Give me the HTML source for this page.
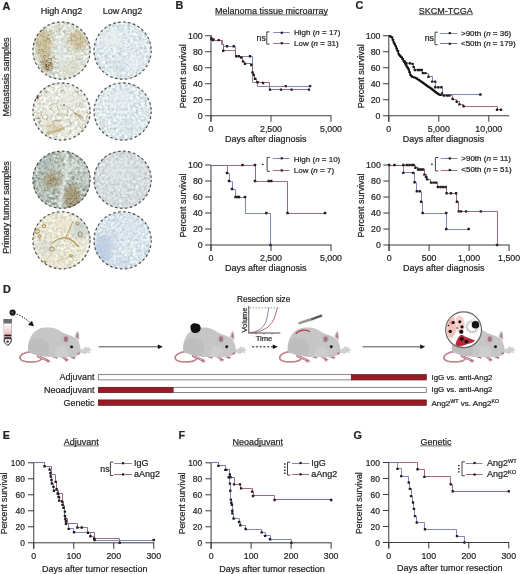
<!DOCTYPE html><html><head><meta charset="utf-8"><style>html,body{margin:0;padding:0;background:#fff;}svg{display:block}</style></head><body>
<svg width="520" height="574" viewBox="0 0 520 574" font-family="'Liberation Sans', Arial, sans-serif" fill="#231f20"><style>text{stroke:#231f20;stroke-width:0.22px;}</style>
<rect width="520" height="574" fill="#fff"/>
<text x="2.40" y="9.60" font-size="10.8" text-anchor="start" font-weight="bold" >A</text>
<text x="175.60" y="9.40" font-size="10.8" text-anchor="start" font-weight="bold" >B</text>
<text x="355.60" y="9.40" font-size="10.8" text-anchor="start" font-weight="bold" >C</text>
<text x="3.00" y="292.90" font-size="10.8" text-anchor="start" font-weight="bold" >D</text>
<text x="2.80" y="439.20" font-size="10.8" text-anchor="start" font-weight="bold" >E</text>
<text x="178.40" y="439.20" font-size="10.8" text-anchor="start" font-weight="bold" >F</text>
<text x="353.40" y="439.20" font-size="10.8" text-anchor="start" font-weight="bold" >G</text>
<path d="M211.50,35.50 H211.50 V38.50 H214.50 V40.50 H221.50 V44.50 H223.50 V46.50 H235.50 V56.50 H252.50 V82.50 H257.50 V86.50 H310.50" fill="none" stroke="#717bb0" stroke-width="0.9"/>
<path d="M211.50,35.50 H211.50 V38.50 H214.50 V40.50 H222.50 V44.50 H223.50 V50.50 H235.50 V56.50 H240.50 V57.50 H242.50 V61.50 H244.50 V63.50 H251.50 V65.50 H252.50 V72.50 H253.50 V75.50 H254.50 V78.50 H256.50 V82.50 H269.50 V89.50 H309.50" fill="none" stroke="#9c5a66" stroke-width="0.9"/>
<rect x="210.10" y="36.95" width="2.4" height="2.4" rx="0.5" fill="#231f20"/>
<rect x="211.80" y="38.95" width="2.4" height="2.4" rx="0.5" fill="#231f20"/>
<rect x="217.55" y="38.95" width="2.4" height="2.4" rx="0.5" fill="#231f20"/>
<rect x="225.80" y="45.03" width="2.4" height="2.4" rx="0.5" fill="#231f20"/>
<rect x="232.55" y="45.03" width="2.4" height="2.4" rx="0.5" fill="#231f20"/>
<rect x="248.80" y="55.03" width="2.4" height="2.4" rx="0.5" fill="#231f20"/>
<rect x="261.80" y="81.75" width="2.4" height="2.4" rx="0.5" fill="#231f20"/>
<rect x="284.60" y="84.95" width="2.4" height="2.4" rx="0.5" fill="#231f20"/>
<rect x="308.80" y="84.95" width="2.4" height="2.4" rx="0.5" fill="#231f20"/>
<rect x="210.10" y="38.15" width="2.4" height="2.4" rx="0.5" fill="#231f20"/>
<rect x="222.05" y="49.55" width="2.4" height="2.4" rx="0.5" fill="#231f20"/>
<rect x="235.05" y="55.03" width="2.4" height="2.4" rx="0.5" fill="#231f20"/>
<rect x="237.55" y="55.03" width="2.4" height="2.4" rx="0.5" fill="#231f20"/>
<rect x="240.05" y="56.31" width="2.4" height="2.4" rx="0.5" fill="#231f20"/>
<rect x="241.80" y="60.15" width="2.4" height="2.4" rx="0.5" fill="#231f20"/>
<rect x="243.80" y="62.55" width="2.4" height="2.4" rx="0.5" fill="#231f20"/>
<rect x="250.05" y="63.83" width="2.4" height="2.4" rx="0.5" fill="#231f20"/>
<rect x="251.30" y="71.35" width="2.4" height="2.4" rx="0.5" fill="#231f20"/>
<rect x="252.55" y="73.83" width="2.4" height="2.4" rx="0.5" fill="#231f20"/>
<rect x="253.80" y="77.55" width="2.4" height="2.4" rx="0.5" fill="#231f20"/>
<rect x="256.30" y="81.03" width="2.4" height="2.4" rx="0.5" fill="#231f20"/>
<rect x="268.80" y="88.47" width="2.4" height="2.4" rx="0.5" fill="#231f20"/>
<rect x="279.80" y="88.47" width="2.4" height="2.4" rx="0.5" fill="#231f20"/>
<rect x="290.40" y="88.47" width="2.4" height="2.4" rx="0.5" fill="#231f20"/>
<rect x="307.80" y="88.47" width="2.4" height="2.4" rx="0.5" fill="#231f20"/>
<line x1="211.00" y1="35.75" x2="211.00" y2="121.75" stroke="#3a3a3a" stroke-width="1.0" />
<line x1="210.50" y1="115.75" x2="331.50" y2="115.75" stroke="#3a3a3a" stroke-width="1.0" />
<line x1="205.20" y1="115.75" x2="211.00" y2="115.75" stroke="#3a3a3a" stroke-width="1.0" />
<text x="202.70" y="118.85" font-size="8.8" text-anchor="end" font-weight="normal" >0</text>
<line x1="205.20" y1="99.75" x2="211.00" y2="99.75" stroke="#3a3a3a" stroke-width="1.0" />
<text x="202.70" y="102.85" font-size="8.8" text-anchor="end" font-weight="normal" >20</text>
<line x1="205.20" y1="83.75" x2="211.00" y2="83.75" stroke="#3a3a3a" stroke-width="1.0" />
<text x="202.70" y="86.85" font-size="8.8" text-anchor="end" font-weight="normal" >40</text>
<line x1="205.20" y1="67.75" x2="211.00" y2="67.75" stroke="#3a3a3a" stroke-width="1.0" />
<text x="202.70" y="70.85" font-size="8.8" text-anchor="end" font-weight="normal" >60</text>
<line x1="205.20" y1="51.75" x2="211.00" y2="51.75" stroke="#3a3a3a" stroke-width="1.0" />
<text x="202.70" y="54.85" font-size="8.8" text-anchor="end" font-weight="normal" >80</text>
<line x1="205.20" y1="35.75" x2="211.00" y2="35.75" stroke="#3a3a3a" stroke-width="1.0" />
<text x="202.70" y="38.85" font-size="8.8" text-anchor="end" font-weight="normal" >100</text>
<line x1="211.00" y1="115.75" x2="211.00" y2="121.75" stroke="#3a3a3a" stroke-width="1.0" />
<text x="211.00" y="131.85" font-size="8.8" text-anchor="middle" font-weight="normal" >0</text>
<line x1="271.00" y1="115.75" x2="271.00" y2="121.75" stroke="#3a3a3a" stroke-width="1.0" />
<text x="271.00" y="131.85" font-size="8.8" text-anchor="middle" font-weight="normal" >2,500</text>
<line x1="331.00" y1="115.75" x2="331.00" y2="121.75" stroke="#3a3a3a" stroke-width="1.0" />
<text x="331.00" y="131.85" font-size="8.8" text-anchor="middle" font-weight="normal" >5,000</text>
<text x="0" y="0" font-size="9" text-anchor="middle" transform="translate(185.70,76.35) rotate(-90)">Percent survival</text>
<text x="265.70" y="141.55" font-size="9" text-anchor="middle" font-weight="normal" >Days after diagnosis</text>
<path d="M269.60,31.90 H266.80 V44.10 H269.60" fill="none" stroke="#3a3a3a" stroke-width="0.95"/>
<line x1="273.20" y1="32.50" x2="289.60" y2="32.50" stroke="#717bb0" stroke-width="0.9" />
<line x1="273.20" y1="43.50" x2="289.60" y2="43.50" stroke="#9c5a66" stroke-width="0.9" />
<rect x="280.70" y="31.70" width="2.2" height="2.2" fill="#231f20"/>
<rect x="280.70" y="42.10" width="2.2" height="2.2" fill="#231f20"/>
<text x="294.00" y="35.40" font-size="8" text-anchor="start" font-weight="normal" >High (<tspan font-style="italic">n</tspan> = 17)</text>
<text x="294.00" y="46.10" font-size="8" text-anchor="start" font-weight="normal" >Low (<tspan font-style="italic">n</tspan> = 31)</text>
<text x="265.80" y="40.90" font-size="8.8" text-anchor="end" font-weight="normal" >ns</text>
<path d="M211.50,165.50 H227.50 V173.50 H229.50 V181.50 H232.50 V189.50 H235.50 V197.50 H245.50 V213.50 H270.50 V245.50 H270.50" fill="none" stroke="#717bb0" stroke-width="0.9"/>
<path d="M211.50,165.50 H255.50 V181.50 H287.50 V213.50 H325.50" fill="none" stroke="#9c5a66" stroke-width="0.9"/>
<rect x="225.80" y="171.80" width="2.4" height="2.4" rx="0.5" fill="#231f20"/>
<rect x="227.80" y="179.80" width="2.4" height="2.4" rx="0.5" fill="#231f20"/>
<rect x="230.80" y="187.80" width="2.4" height="2.4" rx="0.5" fill="#231f20"/>
<rect x="234.30" y="195.80" width="2.4" height="2.4" rx="0.5" fill="#231f20"/>
<rect x="236.30" y="195.80" width="2.4" height="2.4" rx="0.5" fill="#231f20"/>
<rect x="237.80" y="195.80" width="2.4" height="2.4" rx="0.5" fill="#231f20"/>
<rect x="243.80" y="195.80" width="2.4" height="2.4" rx="0.5" fill="#231f20"/>
<rect x="265.05" y="211.80" width="2.4" height="2.4" rx="0.5" fill="#231f20"/>
<rect x="269.30" y="243.80" width="2.4" height="2.4" rx="0.5" fill="#231f20"/>
<rect x="241.30" y="163.80" width="2.4" height="2.4" rx="0.5" fill="#231f20"/>
<rect x="253.80" y="163.80" width="2.4" height="2.4" rx="0.5" fill="#231f20"/>
<rect x="253.80" y="179.80" width="2.4" height="2.4" rx="0.5" fill="#231f20"/>
<rect x="267.55" y="179.80" width="2.4" height="2.4" rx="0.5" fill="#231f20"/>
<rect x="270.05" y="179.80" width="2.4" height="2.4" rx="0.5" fill="#231f20"/>
<rect x="286.30" y="211.80" width="2.4" height="2.4" rx="0.5" fill="#231f20"/>
<rect x="323.80" y="211.80" width="2.4" height="2.4" rx="0.5" fill="#231f20"/>
<line x1="211.00" y1="165.00" x2="211.00" y2="251.00" stroke="#3a3a3a" stroke-width="1.0" />
<line x1="210.50" y1="245.00" x2="331.50" y2="245.00" stroke="#3a3a3a" stroke-width="1.0" />
<line x1="205.20" y1="245.00" x2="211.00" y2="245.00" stroke="#3a3a3a" stroke-width="1.0" />
<text x="202.70" y="248.10" font-size="8.8" text-anchor="end" font-weight="normal" >0</text>
<line x1="205.20" y1="229.00" x2="211.00" y2="229.00" stroke="#3a3a3a" stroke-width="1.0" />
<text x="202.70" y="232.10" font-size="8.8" text-anchor="end" font-weight="normal" >20</text>
<line x1="205.20" y1="213.00" x2="211.00" y2="213.00" stroke="#3a3a3a" stroke-width="1.0" />
<text x="202.70" y="216.10" font-size="8.8" text-anchor="end" font-weight="normal" >40</text>
<line x1="205.20" y1="197.00" x2="211.00" y2="197.00" stroke="#3a3a3a" stroke-width="1.0" />
<text x="202.70" y="200.10" font-size="8.8" text-anchor="end" font-weight="normal" >60</text>
<line x1="205.20" y1="181.00" x2="211.00" y2="181.00" stroke="#3a3a3a" stroke-width="1.0" />
<text x="202.70" y="184.10" font-size="8.8" text-anchor="end" font-weight="normal" >80</text>
<line x1="205.20" y1="165.00" x2="211.00" y2="165.00" stroke="#3a3a3a" stroke-width="1.0" />
<text x="202.70" y="168.10" font-size="8.8" text-anchor="end" font-weight="normal" >100</text>
<line x1="211.00" y1="245.00" x2="211.00" y2="251.00" stroke="#3a3a3a" stroke-width="1.0" />
<text x="211.00" y="261.10" font-size="8.8" text-anchor="middle" font-weight="normal" >0</text>
<line x1="271.00" y1="245.00" x2="271.00" y2="251.00" stroke="#3a3a3a" stroke-width="1.0" />
<text x="271.00" y="261.10" font-size="8.8" text-anchor="middle" font-weight="normal" >2,500</text>
<line x1="331.00" y1="245.00" x2="331.00" y2="251.00" stroke="#3a3a3a" stroke-width="1.0" />
<text x="331.00" y="261.10" font-size="8.8" text-anchor="middle" font-weight="normal" >5,000</text>
<text x="0" y="0" font-size="9" text-anchor="middle" transform="translate(185.70,205.60) rotate(-90)">Percent survival</text>
<text x="265.70" y="270.80" font-size="9" text-anchor="middle" font-weight="normal" >Days after diagnosis</text>
<path d="M269.90,157.40 H267.10 V171.30 H269.90" fill="none" stroke="#3a3a3a" stroke-width="0.95"/>
<line x1="272.80" y1="158.50" x2="289.60" y2="158.50" stroke="#717bb0" stroke-width="0.9" />
<line x1="272.80" y1="170.50" x2="289.60" y2="170.50" stroke="#9c5a66" stroke-width="0.9" />
<rect x="280.70" y="157.20" width="2.2" height="2.2" fill="#231f20"/>
<rect x="280.70" y="169.30" width="2.2" height="2.2" fill="#231f20"/>
<text x="293.80" y="162.10" font-size="8" text-anchor="start" font-weight="normal" >High (<tspan font-style="italic">n</tspan> = 10)</text>
<text x="293.80" y="173.40" font-size="8" text-anchor="start" font-weight="normal" >Low (<tspan font-style="italic">n</tspan> = 7)</text>
<rect x="261.95" y="163.65" width="1.7" height="1.4" rx="0.4" fill="#231f20"/>
<path d="M388.50,35.50 H389.50 V36.50 H390.50 V36.50 H391.50 V37.50 H392.50 V39.50 H393.50 V42.50 H394.50 V44.50 H395.50 V46.50 H396.50 V48.50 H397.50 V50.50 H398.50 V54.50 H399.50 V55.50 H399.50 V56.50 H400.50 V57.50 H402.50 V58.50 H403.50 V60.50 H404.50 V62.50 H404.50 V61.50 H406.50 V63.50 H413.50 V66.50 H414.50 V69.50 H422.50 V73.50 H428.50 V76.50 H432.50 V81.50 H435.50 V87.50 H442.50 V94.50 H480.50" fill="none" stroke="#717bb0" stroke-width="0.9"/>
<path d="M388.50,35.50 H389.50 V36.50 H390.50 V36.50 H391.50 V37.50 H392.50 V39.50 H393.50 V42.50 H394.50 V44.50 H395.50 V46.50 H396.50 V48.50 H397.50 V50.50 H398.50 V54.50 H399.50 V55.50 H399.50 V56.50 H400.50 V57.50 H402.50 V58.50 H403.50 V60.50 H404.50 V62.50 H404.50 V63.50 H405.50 V65.50 H406.50 V66.50 H407.50 V67.50 H408.50 V69.50 H409.50 V72.50 H410.50 V74.50 H410.50 V75.50 H411.50 V76.50 H412.50 V77.50 H413.50 V77.50 H414.50 V77.50 H415.50 V78.50 H416.50 V78.50 H417.50 V79.50 H418.50 V79.50 H419.50 V80.50 H420.50 V81.50 H421.50 V81.50 H421.50 V82.50 H422.50 V83.50 H423.50 V83.50 H424.50 V84.50 H425.50 V84.50 H426.50 V85.50 H426.50 V86.50 H427.50 V86.50 H428.50 V87.50 H429.50 V87.50 H430.50 V88.50 H431.50 V89.50 H432.50 V89.50 H433.50 V90.50 H434.50 V91.50 H435.50 V92.50 H436.50 V92.50 H437.50 V93.50 H437.50 V94.50 H438.50 V94.50 H439.50 V94.50 H440.50 V95.50 H441.50 V95.50 H451.50 V95.50 H452.50 V99.50 H456.50 V101.50 H459.50 V104.50 H463.50 V106.50 H497.50 V109.50 H501.50" fill="none" stroke="#9c5a66" stroke-width="0.9"/>
<path d="M388.80,35.75 H389.50 V36.20 H390.50 V36.80 H391.50 V37.40 H392.45 V39.85 H393.40 V42.30 H394.30 V44.15 H395.20 V46.00 H396.15 V48.45 H397.10 V50.90 H398.30 V54.00 H399.13 V55.03 H399.97 V56.07 H400.80 V57.10 H402.00 V58.95 H403.20 V60.80 H404.03 V62.23 H404.87 V63.67 H405.70 V65.10 H406.53 V66.53 H407.37 V67.97 H408.20 V69.40 H409.10 V72.15 H410.00 V74.90 H410.90 V75.85 H411.80 V76.80 H412.73 V77.10 H413.65 V77.40 H414.57 V77.70 H415.50 V78.00 H416.43 V78.62 H417.35 V79.25 H418.27 V79.88 H419.20 V80.50 H420.12 V81.12 H421.05 V81.75 H421.97 V82.38 H422.90 V83.00 H423.72 V83.60 H424.53 V84.20 H425.35 V84.80 H426.17 V85.40 H426.98 V86.00 H427.80 V86.60 H428.73 V87.22 H429.65 V87.85 H430.57 V88.47 H431.50 V89.10 H432.43 V89.88 H433.35 V90.65 H434.27 V91.42 H435.20 V92.20 H436.12 V92.80 H437.05 V93.40 H437.97 V94.00 H438.90 V94.60 H439.73 V94.93 H440.57 V95.27 H441.40 V95.60 H441.40" fill="none" stroke="#111" stroke-width="1.7"/>
<rect x="403.30" y="60.23" width="2.4" height="2.4" rx="0.5" fill="#231f20"/>
<rect x="405.10" y="61.99" width="2.4" height="2.4" rx="0.5" fill="#231f20"/>
<rect x="408.60" y="61.99" width="2.4" height="2.4" rx="0.5" fill="#231f20"/>
<rect x="411.30" y="62.63" width="2.4" height="2.4" rx="0.5" fill="#231f20"/>
<rect x="412.50" y="65.75" width="2.4" height="2.4" rx="0.5" fill="#231f20"/>
<rect x="413.70" y="68.79" width="2.4" height="2.4" rx="0.5" fill="#231f20"/>
<rect x="416.60" y="68.79" width="2.4" height="2.4" rx="0.5" fill="#231f20"/>
<rect x="418.60" y="68.79" width="2.4" height="2.4" rx="0.5" fill="#231f20"/>
<rect x="420.50" y="68.79" width="2.4" height="2.4" rx="0.5" fill="#231f20"/>
<rect x="421.70" y="71.91" width="2.4" height="2.4" rx="0.5" fill="#231f20"/>
<rect x="424.20" y="71.91" width="2.4" height="2.4" rx="0.5" fill="#231f20"/>
<rect x="427.30" y="75.59" width="2.4" height="2.4" rx="0.5" fill="#231f20"/>
<rect x="431.00" y="80.47" width="2.4" height="2.4" rx="0.5" fill="#231f20"/>
<rect x="434.00" y="80.47" width="2.4" height="2.4" rx="0.5" fill="#231f20"/>
<rect x="434.00" y="85.99" width="2.4" height="2.4" rx="0.5" fill="#231f20"/>
<rect x="437.10" y="85.99" width="2.4" height="2.4" rx="0.5" fill="#231f20"/>
<rect x="440.20" y="85.99" width="2.4" height="2.4" rx="0.5" fill="#231f20"/>
<rect x="440.80" y="92.15" width="2.4" height="2.4" rx="0.5" fill="#231f20"/>
<rect x="479.20" y="93.35" width="2.4" height="2.4" rx="0.5" fill="#231f20"/>
<rect x="442.60" y="94.40" width="2.4" height="2.4" rx="0.5" fill="#231f20"/>
<rect x="445.60" y="94.40" width="2.4" height="2.4" rx="0.5" fill="#231f20"/>
<rect x="448.10" y="94.40" width="2.4" height="2.4" rx="0.5" fill="#231f20"/>
<rect x="451.50" y="97.80" width="2.4" height="2.4" rx="0.5" fill="#231f20"/>
<rect x="455.50" y="100.50" width="2.4" height="2.4" rx="0.5" fill="#231f20"/>
<rect x="458.20" y="103.20" width="2.4" height="2.4" rx="0.5" fill="#231f20"/>
<rect x="462.30" y="105.10" width="2.4" height="2.4" rx="0.5" fill="#231f20"/>
<rect x="495.80" y="108.60" width="2.4" height="2.4" rx="0.5" fill="#231f20"/>
<rect x="499.80" y="108.60" width="2.4" height="2.4" rx="0.5" fill="#231f20"/>
<line x1="388.80" y1="35.75" x2="388.80" y2="121.75" stroke="#3a3a3a" stroke-width="1.0" />
<line x1="388.30" y1="115.75" x2="509.30" y2="115.75" stroke="#3a3a3a" stroke-width="1.0" />
<line x1="383.00" y1="115.75" x2="388.80" y2="115.75" stroke="#3a3a3a" stroke-width="1.0" />
<text x="380.50" y="118.85" font-size="8.8" text-anchor="end" font-weight="normal" >0</text>
<line x1="383.00" y1="99.75" x2="388.80" y2="99.75" stroke="#3a3a3a" stroke-width="1.0" />
<text x="380.50" y="102.85" font-size="8.8" text-anchor="end" font-weight="normal" >20</text>
<line x1="383.00" y1="83.75" x2="388.80" y2="83.75" stroke="#3a3a3a" stroke-width="1.0" />
<text x="380.50" y="86.85" font-size="8.8" text-anchor="end" font-weight="normal" >40</text>
<line x1="383.00" y1="67.75" x2="388.80" y2="67.75" stroke="#3a3a3a" stroke-width="1.0" />
<text x="380.50" y="70.85" font-size="8.8" text-anchor="end" font-weight="normal" >60</text>
<line x1="383.00" y1="51.75" x2="388.80" y2="51.75" stroke="#3a3a3a" stroke-width="1.0" />
<text x="380.50" y="54.85" font-size="8.8" text-anchor="end" font-weight="normal" >80</text>
<line x1="383.00" y1="35.75" x2="388.80" y2="35.75" stroke="#3a3a3a" stroke-width="1.0" />
<text x="380.50" y="38.85" font-size="8.8" text-anchor="end" font-weight="normal" >100</text>
<line x1="388.80" y1="115.75" x2="388.80" y2="121.75" stroke="#3a3a3a" stroke-width="1.0" />
<text x="388.80" y="131.85" font-size="8.8" text-anchor="middle" font-weight="normal" >0</text>
<line x1="438.80" y1="115.75" x2="438.80" y2="121.75" stroke="#3a3a3a" stroke-width="1.0" />
<text x="438.80" y="131.85" font-size="8.8" text-anchor="middle" font-weight="normal" >5,000</text>
<line x1="488.80" y1="115.75" x2="488.80" y2="121.75" stroke="#3a3a3a" stroke-width="1.0" />
<text x="488.80" y="131.85" font-size="8.8" text-anchor="middle" font-weight="normal" >10,000</text>
<text x="0" y="0" font-size="9" text-anchor="middle" transform="translate(363.50,76.35) rotate(-90)">Percent survival</text>
<text x="443.50" y="141.55" font-size="9" text-anchor="middle" font-weight="normal" >Days after diagnosis</text>
<path d="M437.80,32.20 H435.00 V44.70 H437.80" fill="none" stroke="#3a3a3a" stroke-width="0.95"/>
<line x1="440.20" y1="33.50" x2="457.50" y2="33.50" stroke="#717bb0" stroke-width="0.9" />
<line x1="440.20" y1="43.50" x2="457.50" y2="43.50" stroke="#9c5a66" stroke-width="0.9" />
<rect x="448.70" y="32.00" width="2.2" height="2.2" fill="#231f20"/>
<rect x="448.70" y="42.70" width="2.2" height="2.2" fill="#231f20"/>
<text x="461.00" y="35.60" font-size="8" text-anchor="start" font-weight="normal" >&gt;90th (<tspan font-style="italic">n</tspan> = 36)</text>
<text x="461.00" y="46.10" font-size="8" text-anchor="start" font-weight="normal" >&lt;50th (<tspan font-style="italic">n</tspan> = 179)</text>
<text x="434.00" y="41.35" font-size="8.8" text-anchor="end" font-weight="normal" >ns</text>
<path d="M389.50,165.50 H403.50 V172.50 H414.50 V182.50 H416.50 V191.50 H421.50 V201.50 H422.50 V213.50 H446.50 V229.50 H468.50" fill="none" stroke="#717bb0" stroke-width="0.9"/>
<path d="M389.50,165.50 H415.50 V167.50 H418.50 V169.50 H424.50 V174.50 H426.50 V177.50 H427.50 V179.50 H430.50 V182.50 H437.50 V187.50 H446.50 V193.50 H456.50 V201.50 H458.50 V211.50 H497.50 V245.50 H497.50" fill="none" stroke="#9c5a66" stroke-width="0.9"/>
<rect x="387.90" y="163.80" width="2.4" height="2.4" rx="0.5" fill="#231f20"/>
<rect x="393.20" y="163.80" width="2.4" height="2.4" rx="0.5" fill="#231f20"/>
<rect x="402.10" y="171.64" width="2.4" height="2.4" rx="0.5" fill="#231f20"/>
<rect x="411.90" y="171.64" width="2.4" height="2.4" rx="0.5" fill="#231f20"/>
<rect x="413.40" y="181.00" width="2.4" height="2.4" rx="0.5" fill="#231f20"/>
<rect x="415.60" y="190.04" width="2.4" height="2.4" rx="0.5" fill="#231f20"/>
<rect x="418.50" y="190.04" width="2.4" height="2.4" rx="0.5" fill="#231f20"/>
<rect x="419.90" y="200.60" width="2.4" height="2.4" rx="0.5" fill="#231f20"/>
<rect x="421.50" y="211.80" width="2.4" height="2.4" rx="0.5" fill="#231f20"/>
<rect x="445.00" y="211.80" width="2.4" height="2.4" rx="0.5" fill="#231f20"/>
<rect x="445.00" y="227.80" width="2.4" height="2.4" rx="0.5" fill="#231f20"/>
<rect x="467.50" y="227.80" width="2.4" height="2.4" rx="0.5" fill="#231f20"/>
<rect x="402.10" y="163.80" width="2.4" height="2.4" rx="0.5" fill="#231f20"/>
<rect x="405.60" y="163.80" width="2.4" height="2.4" rx="0.5" fill="#231f20"/>
<rect x="408.20" y="163.80" width="2.4" height="2.4" rx="0.5" fill="#231f20"/>
<rect x="410.80" y="163.80" width="2.4" height="2.4" rx="0.5" fill="#231f20"/>
<rect x="412.50" y="163.80" width="2.4" height="2.4" rx="0.5" fill="#231f20"/>
<rect x="414.20" y="166.60" width="2.4" height="2.4" rx="0.5" fill="#231f20"/>
<rect x="416.90" y="168.36" width="2.4" height="2.4" rx="0.5" fill="#231f20"/>
<rect x="418.60" y="168.36" width="2.4" height="2.4" rx="0.5" fill="#231f20"/>
<rect x="420.30" y="168.36" width="2.4" height="2.4" rx="0.5" fill="#231f20"/>
<rect x="422.00" y="168.36" width="2.4" height="2.4" rx="0.5" fill="#231f20"/>
<rect x="423.20" y="173.40" width="2.4" height="2.4" rx="0.5" fill="#231f20"/>
<rect x="424.90" y="175.80" width="2.4" height="2.4" rx="0.5" fill="#231f20"/>
<rect x="425.90" y="178.20" width="2.4" height="2.4" rx="0.5" fill="#231f20"/>
<rect x="429.90" y="181.40" width="2.4" height="2.4" rx="0.5" fill="#231f20"/>
<rect x="432.40" y="181.40" width="2.4" height="2.4" rx="0.5" fill="#231f20"/>
<rect x="434.90" y="181.40" width="2.4" height="2.4" rx="0.5" fill="#231f20"/>
<rect x="436.70" y="185.80" width="2.4" height="2.4" rx="0.5" fill="#231f20"/>
<rect x="439.30" y="185.80" width="2.4" height="2.4" rx="0.5" fill="#231f20"/>
<rect x="441.90" y="185.80" width="2.4" height="2.4" rx="0.5" fill="#231f20"/>
<rect x="444.50" y="185.80" width="2.4" height="2.4" rx="0.5" fill="#231f20"/>
<rect x="445.40" y="192.12" width="2.4" height="2.4" rx="0.5" fill="#231f20"/>
<rect x="449.70" y="192.12" width="2.4" height="2.4" rx="0.5" fill="#231f20"/>
<rect x="454.90" y="192.12" width="2.4" height="2.4" rx="0.5" fill="#231f20"/>
<rect x="455.70" y="200.60" width="2.4" height="2.4" rx="0.5" fill="#231f20"/>
<rect x="457.50" y="210.20" width="2.4" height="2.4" rx="0.5" fill="#231f20"/>
<rect x="459.90" y="210.20" width="2.4" height="2.4" rx="0.5" fill="#231f20"/>
<rect x="464.80" y="210.20" width="2.4" height="2.4" rx="0.5" fill="#231f20"/>
<rect x="479.60" y="210.20" width="2.4" height="2.4" rx="0.5" fill="#231f20"/>
<rect x="495.90" y="243.80" width="2.4" height="2.4" rx="0.5" fill="#231f20"/>
<line x1="389.10" y1="165.00" x2="389.10" y2="251.00" stroke="#3a3a3a" stroke-width="1.0" />
<line x1="388.60" y1="245.00" x2="509.60" y2="245.00" stroke="#3a3a3a" stroke-width="1.0" />
<line x1="383.30" y1="245.00" x2="389.10" y2="245.00" stroke="#3a3a3a" stroke-width="1.0" />
<text x="380.80" y="248.10" font-size="8.8" text-anchor="end" font-weight="normal" >0</text>
<line x1="383.30" y1="229.00" x2="389.10" y2="229.00" stroke="#3a3a3a" stroke-width="1.0" />
<text x="380.80" y="232.10" font-size="8.8" text-anchor="end" font-weight="normal" >20</text>
<line x1="383.30" y1="213.00" x2="389.10" y2="213.00" stroke="#3a3a3a" stroke-width="1.0" />
<text x="380.80" y="216.10" font-size="8.8" text-anchor="end" font-weight="normal" >40</text>
<line x1="383.30" y1="197.00" x2="389.10" y2="197.00" stroke="#3a3a3a" stroke-width="1.0" />
<text x="380.80" y="200.10" font-size="8.8" text-anchor="end" font-weight="normal" >60</text>
<line x1="383.30" y1="181.00" x2="389.10" y2="181.00" stroke="#3a3a3a" stroke-width="1.0" />
<text x="380.80" y="184.10" font-size="8.8" text-anchor="end" font-weight="normal" >80</text>
<line x1="383.30" y1="165.00" x2="389.10" y2="165.00" stroke="#3a3a3a" stroke-width="1.0" />
<text x="380.80" y="168.10" font-size="8.8" text-anchor="end" font-weight="normal" >100</text>
<line x1="389.10" y1="245.00" x2="389.10" y2="251.00" stroke="#3a3a3a" stroke-width="1.0" />
<text x="389.10" y="261.10" font-size="8.8" text-anchor="middle" font-weight="normal" >0</text>
<line x1="429.10" y1="245.00" x2="429.10" y2="251.00" stroke="#3a3a3a" stroke-width="1.0" />
<text x="429.10" y="261.10" font-size="8.8" text-anchor="middle" font-weight="normal" >500</text>
<line x1="469.10" y1="245.00" x2="469.10" y2="251.00" stroke="#3a3a3a" stroke-width="1.0" />
<text x="469.10" y="261.10" font-size="8.8" text-anchor="middle" font-weight="normal" >1,000</text>
<line x1="509.10" y1="245.00" x2="509.10" y2="251.00" stroke="#3a3a3a" stroke-width="1.0" />
<text x="509.10" y="261.10" font-size="8.8" text-anchor="middle" font-weight="normal" >1,500</text>
<text x="0" y="0" font-size="9" text-anchor="middle" transform="translate(363.80,205.60) rotate(-90)">Percent survival</text>
<text x="443.80" y="270.80" font-size="9" text-anchor="middle" font-weight="normal" >Days after diagnosis</text>
<path d="M438.20,157.50 H435.40 V170.90 H438.20" fill="none" stroke="#3a3a3a" stroke-width="0.95"/>
<line x1="440.80" y1="158.50" x2="457.50" y2="158.50" stroke="#717bb0" stroke-width="0.9" />
<line x1="440.80" y1="170.50" x2="457.50" y2="170.50" stroke="#9c5a66" stroke-width="0.9" />
<rect x="448.70" y="157.30" width="2.2" height="2.2" fill="#231f20"/>
<rect x="448.70" y="168.90" width="2.2" height="2.2" fill="#231f20"/>
<text x="461.30" y="161.30" font-size="8" text-anchor="start" font-weight="normal" >&gt;90th (<tspan font-style="italic">n</tspan> = 11)</text>
<text x="461.30" y="172.00" font-size="8" text-anchor="start" font-weight="normal" >&lt;50th (<tspan font-style="italic">n</tspan> = 51)</text>
<rect x="431.05" y="163.50" width="1.7" height="1.4" rx="0.4" fill="#231f20"/>
<path d="M33.50,462.50 H44.50 V466.50 H51.50 V470.50 H51.50 V474.50 H55.50 V482.50 H56.50 V489.50 H57.50 V493.50 H62.50 V501.50 H63.50 V505.50 H64.50 V510.50 H64.50 V515.50 H65.50 V518.50 H67.50 V523.50 H77.50 V527.50 H87.50 V532.50 H94.50 V538.50 H119.50 V542.50 H119.50" fill="none" stroke="#9c5a66" stroke-width="0.9"/>
<path d="M33.50,462.50 H44.50 V466.50 H49.50 V469.50 H50.50 V473.50 H50.50 V476.50 H51.50 V479.50 H51.50 V483.50 H53.50 V486.50 H53.50 V490.50 H58.50 V493.50 H58.50 V497.50 H59.50 V500.50 H61.50 V501.50 H62.50 V504.50 H63.50 V507.50 H64.50 V511.50 H64.50 V516.50 H65.50 V518.50 H65.50 V521.50 H65.50 V523.50 H68.50 V528.50 H73.50 V532.50 H90.50 V536.50 H94.50 V540.50 H153.50" fill="none" stroke="#717bb0" stroke-width="0.9"/>
<rect x="54.59" y="480.72" width="2.4" height="2.4" rx="0.5" fill="#231f20"/>
<rect x="55.35" y="488.00" width="2.4" height="2.4" rx="0.5" fill="#231f20"/>
<rect x="56.51" y="492.32" width="2.4" height="2.4" rx="0.5" fill="#231f20"/>
<rect x="57.59" y="495.68" width="2.4" height="2.4" rx="0.5" fill="#231f20"/>
<rect x="76.15" y="526.32" width="2.4" height="2.4" rx="0.5" fill="#231f20"/>
<rect x="80.55" y="526.32" width="2.4" height="2.4" rx="0.5" fill="#231f20"/>
<rect x="86.79" y="531.60" width="2.4" height="2.4" rx="0.5" fill="#231f20"/>
<rect x="92.95" y="537.36" width="2.4" height="2.4" rx="0.5" fill="#231f20"/>
<rect x="118.55" y="541.60" width="2.4" height="2.4" rx="0.5" fill="#231f20"/>
<rect x="43.35" y="465.04" width="2.4" height="2.4" rx="0.5" fill="#231f20"/>
<rect x="48.39" y="468.40" width="2.4" height="2.4" rx="0.5" fill="#231f20"/>
<rect x="49.15" y="472.00" width="2.4" height="2.4" rx="0.5" fill="#231f20"/>
<rect x="49.59" y="475.28" width="2.4" height="2.4" rx="0.5" fill="#231f20"/>
<rect x="50.31" y="478.80" width="2.4" height="2.4" rx="0.5" fill="#231f20"/>
<rect x="50.71" y="482.32" width="2.4" height="2.4" rx="0.5" fill="#231f20"/>
<rect x="52.31" y="485.68" width="2.4" height="2.4" rx="0.5" fill="#231f20"/>
<rect x="52.67" y="489.60" width="2.4" height="2.4" rx="0.5" fill="#231f20"/>
<rect x="56.95" y="492.64" width="2.4" height="2.4" rx="0.5" fill="#231f20"/>
<rect x="57.75" y="496.00" width="2.4" height="2.4" rx="0.5" fill="#231f20"/>
<rect x="57.95" y="499.44" width="2.4" height="2.4" rx="0.5" fill="#231f20"/>
<rect x="60.79" y="500.32" width="2.4" height="2.4" rx="0.5" fill="#231f20"/>
<rect x="61.35" y="503.68" width="2.4" height="2.4" rx="0.5" fill="#231f20"/>
<rect x="62.31" y="506.72" width="2.4" height="2.4" rx="0.5" fill="#231f20"/>
<rect x="63.71" y="510.40" width="2.4" height="2.4" rx="0.5" fill="#231f20"/>
<rect x="63.75" y="514.80" width="2.4" height="2.4" rx="0.5" fill="#231f20"/>
<rect x="64.15" y="517.60" width="2.4" height="2.4" rx="0.5" fill="#231f20"/>
<rect x="64.71" y="520.08" width="2.4" height="2.4" rx="0.5" fill="#231f20"/>
<rect x="64.75" y="522.48" width="2.4" height="2.4" rx="0.5" fill="#231f20"/>
<rect x="67.55" y="527.68" width="2.4" height="2.4" rx="0.5" fill="#231f20"/>
<rect x="72.79" y="531.12" width="2.4" height="2.4" rx="0.5" fill="#231f20"/>
<rect x="89.19" y="535.00" width="2.4" height="2.4" rx="0.5" fill="#231f20"/>
<rect x="93.35" y="538.80" width="2.4" height="2.4" rx="0.5" fill="#231f20"/>
<rect x="152.55" y="538.80" width="2.4" height="2.4" rx="0.5" fill="#231f20"/>
<line x1="33.75" y1="462.80" x2="33.75" y2="548.80" stroke="#3a3a3a" stroke-width="1.0" />
<line x1="33.25" y1="542.80" x2="154.25" y2="542.80" stroke="#3a3a3a" stroke-width="1.0" />
<line x1="27.95" y1="542.80" x2="33.75" y2="542.80" stroke="#3a3a3a" stroke-width="1.0" />
<text x="24.85" y="545.90" font-size="8.4" text-anchor="end" font-weight="normal" >0</text>
<line x1="27.95" y1="526.80" x2="33.75" y2="526.80" stroke="#3a3a3a" stroke-width="1.0" />
<text x="24.85" y="529.90" font-size="8.4" text-anchor="end" font-weight="normal" >20</text>
<line x1="27.95" y1="510.80" x2="33.75" y2="510.80" stroke="#3a3a3a" stroke-width="1.0" />
<text x="24.85" y="513.90" font-size="8.4" text-anchor="end" font-weight="normal" >40</text>
<line x1="27.95" y1="494.80" x2="33.75" y2="494.80" stroke="#3a3a3a" stroke-width="1.0" />
<text x="24.85" y="497.90" font-size="8.4" text-anchor="end" font-weight="normal" >60</text>
<line x1="27.95" y1="478.80" x2="33.75" y2="478.80" stroke="#3a3a3a" stroke-width="1.0" />
<text x="24.85" y="481.90" font-size="8.4" text-anchor="end" font-weight="normal" >80</text>
<line x1="27.95" y1="462.80" x2="33.75" y2="462.80" stroke="#3a3a3a" stroke-width="1.0" />
<text x="24.85" y="465.90" font-size="8.4" text-anchor="end" font-weight="normal" >100</text>
<line x1="33.75" y1="542.80" x2="33.75" y2="548.80" stroke="#3a3a3a" stroke-width="1.0" />
<text x="33.75" y="559.30" font-size="8.8" text-anchor="middle" font-weight="normal" >0</text>
<line x1="73.75" y1="542.80" x2="73.75" y2="548.80" stroke="#3a3a3a" stroke-width="1.0" />
<text x="73.75" y="559.30" font-size="8.8" text-anchor="middle" font-weight="normal" >100</text>
<line x1="113.75" y1="542.80" x2="113.75" y2="548.80" stroke="#3a3a3a" stroke-width="1.0" />
<text x="113.75" y="559.30" font-size="8.8" text-anchor="middle" font-weight="normal" >200</text>
<line x1="153.75" y1="542.80" x2="153.75" y2="548.80" stroke="#3a3a3a" stroke-width="1.0" />
<text x="153.75" y="559.30" font-size="8.8" text-anchor="middle" font-weight="normal" >300</text>
<text x="0" y="0" font-size="8.7" text-anchor="middle" transform="translate(7.45,503.40) rotate(-90)">Percent survival</text>
<text x="94.75" y="571.70" font-size="9" text-anchor="middle" font-weight="normal" >Days after tumor resection</text>
<path d="M113.20,462.10 H110.40 V475.50 H113.20" fill="none" stroke="#3a3a3a" stroke-width="0.95"/>
<line x1="114.10" y1="463.50" x2="132.00" y2="463.50" stroke="#717bb0" stroke-width="0.9" />
<line x1="114.10" y1="474.50" x2="132.00" y2="474.50" stroke="#9c5a66" stroke-width="0.9" />
<rect x="122.00" y="462.10" width="2.2" height="2.2" fill="#231f20"/>
<rect x="122.00" y="473.30" width="2.2" height="2.2" fill="#231f20"/>
<text x="134.00" y="465.60" font-size="9" text-anchor="start" font-weight="normal" >IgG</text>
<text x="134.00" y="477.30" font-size="9" text-anchor="start" font-weight="normal" >aAng2</text>
<text x="109.60" y="471.70" font-size="8.8" text-anchor="end" font-weight="normal" >ns</text>
<path d="M211.50,462.50 H218.50 V465.50 H225.50 V469.50 H229.50 V474.50 H230.50 V477.50 H234.50 V484.50 H240.50 V488.50 H252.50 V491.50 H253.50 V495.50 H274.50 V499.50 H331.50" fill="none" stroke="#9c5a66" stroke-width="0.9"/>
<path d="M211.50,462.50 H218.50 V465.50 H225.50 V469.50 H229.50 V474.50 H229.50 V483.50 H230.50 V490.50 H230.50 V499.50 H231.50 V504.50 H232.50 V513.50 H233.50 V518.50 H239.50 V522.50 H240.50 V525.50 H245.50 V529.50 H261.50 V532.50 H265.50 V535.50 H270.50 V539.50 H291.50 V542.50 H291.50" fill="none" stroke="#717bb0" stroke-width="0.9"/>
<rect x="217.20" y="464.64" width="2.4" height="2.4" rx="0.5" fill="#231f20"/>
<rect x="224.10" y="468.64" width="2.4" height="2.4" rx="0.5" fill="#231f20"/>
<rect x="228.60" y="473.20" width="2.4" height="2.4" rx="0.5" fill="#231f20"/>
<rect x="229.30" y="476.00" width="2.4" height="2.4" rx="0.5" fill="#231f20"/>
<rect x="232.80" y="483.20" width="2.4" height="2.4" rx="0.5" fill="#231f20"/>
<rect x="238.80" y="483.20" width="2.4" height="2.4" rx="0.5" fill="#231f20"/>
<rect x="239.90" y="487.20" width="2.4" height="2.4" rx="0.5" fill="#231f20"/>
<rect x="250.90" y="490.40" width="2.4" height="2.4" rx="0.5" fill="#231f20"/>
<rect x="251.90" y="494.80" width="2.4" height="2.4" rx="0.5" fill="#231f20"/>
<rect x="273.40" y="498.80" width="2.4" height="2.4" rx="0.5" fill="#231f20"/>
<rect x="329.90" y="498.80" width="2.4" height="2.4" rx="0.5" fill="#231f20"/>
<rect x="225.10" y="468.64" width="2.4" height="2.4" rx="0.5" fill="#231f20"/>
<rect x="227.50" y="476.00" width="2.4" height="2.4" rx="0.5" fill="#231f20"/>
<rect x="228.70" y="482.40" width="2.4" height="2.4" rx="0.5" fill="#231f20"/>
<rect x="229.10" y="489.60" width="2.4" height="2.4" rx="0.5" fill="#231f20"/>
<rect x="229.70" y="498.40" width="2.4" height="2.4" rx="0.5" fill="#231f20"/>
<rect x="230.10" y="501.60" width="2.4" height="2.4" rx="0.5" fill="#231f20"/>
<rect x="230.70" y="503.52" width="2.4" height="2.4" rx="0.5" fill="#231f20"/>
<rect x="231.10" y="509.60" width="2.4" height="2.4" rx="0.5" fill="#231f20"/>
<rect x="231.10" y="512.16" width="2.4" height="2.4" rx="0.5" fill="#231f20"/>
<rect x="232.40" y="517.36" width="2.4" height="2.4" rx="0.5" fill="#231f20"/>
<rect x="237.90" y="520.80" width="2.4" height="2.4" rx="0.5" fill="#231f20"/>
<rect x="239.10" y="524.00" width="2.4" height="2.4" rx="0.5" fill="#231f20"/>
<rect x="244.50" y="527.84" width="2.4" height="2.4" rx="0.5" fill="#231f20"/>
<rect x="260.50" y="531.20" width="2.4" height="2.4" rx="0.5" fill="#231f20"/>
<rect x="263.90" y="534.72" width="2.4" height="2.4" rx="0.5" fill="#231f20"/>
<rect x="268.80" y="538.08" width="2.4" height="2.4" rx="0.5" fill="#231f20"/>
<rect x="290.20" y="541.60" width="2.4" height="2.4" rx="0.5" fill="#231f20"/>
<line x1="211.10" y1="462.80" x2="211.10" y2="548.80" stroke="#3a3a3a" stroke-width="1.0" />
<line x1="210.60" y1="542.80" x2="331.60" y2="542.80" stroke="#3a3a3a" stroke-width="1.0" />
<line x1="205.30" y1="542.80" x2="211.10" y2="542.80" stroke="#3a3a3a" stroke-width="1.0" />
<text x="202.20" y="545.90" font-size="8.4" text-anchor="end" font-weight="normal" >0</text>
<line x1="205.30" y1="526.80" x2="211.10" y2="526.80" stroke="#3a3a3a" stroke-width="1.0" />
<text x="202.20" y="529.90" font-size="8.4" text-anchor="end" font-weight="normal" >20</text>
<line x1="205.30" y1="510.80" x2="211.10" y2="510.80" stroke="#3a3a3a" stroke-width="1.0" />
<text x="202.20" y="513.90" font-size="8.4" text-anchor="end" font-weight="normal" >40</text>
<line x1="205.30" y1="494.80" x2="211.10" y2="494.80" stroke="#3a3a3a" stroke-width="1.0" />
<text x="202.20" y="497.90" font-size="8.4" text-anchor="end" font-weight="normal" >60</text>
<line x1="205.30" y1="478.80" x2="211.10" y2="478.80" stroke="#3a3a3a" stroke-width="1.0" />
<text x="202.20" y="481.90" font-size="8.4" text-anchor="end" font-weight="normal" >80</text>
<line x1="205.30" y1="462.80" x2="211.10" y2="462.80" stroke="#3a3a3a" stroke-width="1.0" />
<text x="202.20" y="465.90" font-size="8.4" text-anchor="end" font-weight="normal" >100</text>
<line x1="211.10" y1="542.80" x2="211.10" y2="548.80" stroke="#3a3a3a" stroke-width="1.0" />
<text x="211.10" y="559.30" font-size="8.8" text-anchor="middle" font-weight="normal" >0</text>
<line x1="251.10" y1="542.80" x2="251.10" y2="548.80" stroke="#3a3a3a" stroke-width="1.0" />
<text x="251.10" y="559.30" font-size="8.8" text-anchor="middle" font-weight="normal" >100</text>
<line x1="291.10" y1="542.80" x2="291.10" y2="548.80" stroke="#3a3a3a" stroke-width="1.0" />
<text x="291.10" y="559.30" font-size="8.8" text-anchor="middle" font-weight="normal" >200</text>
<line x1="331.10" y1="542.80" x2="331.10" y2="548.80" stroke="#3a3a3a" stroke-width="1.0" />
<text x="331.10" y="559.30" font-size="8.8" text-anchor="middle" font-weight="normal" >300</text>
<text x="0" y="0" font-size="8.7" text-anchor="middle" transform="translate(184.80,503.40) rotate(-90)">Percent survival</text>
<text x="272.10" y="571.70" font-size="9" text-anchor="middle" font-weight="normal" >Days after tumor resection</text>
<path d="M290.30,462.20 H287.50 V475.10 H290.30" fill="none" stroke="#3a3a3a" stroke-width="0.95"/>
<line x1="291.90" y1="463.50" x2="309.30" y2="463.50" stroke="#717bb0" stroke-width="0.9" />
<line x1="291.90" y1="474.50" x2="309.30" y2="474.50" stroke="#9c5a66" stroke-width="0.9" />
<rect x="299.50" y="461.90" width="2.2" height="2.2" fill="#231f20"/>
<rect x="299.50" y="473.20" width="2.2" height="2.2" fill="#231f20"/>
<text x="311.30" y="465.80" font-size="9" text-anchor="start" font-weight="normal" >IgG</text>
<text x="311.30" y="477.20" font-size="9" text-anchor="start" font-weight="normal" >aAng2</text>
<rect x="283.95" y="463.30" width="1.7" height="1.4" rx="0.4" fill="#231f20"/>
<rect x="283.95" y="466.40" width="1.7" height="1.4" rx="0.4" fill="#231f20"/>
<rect x="283.95" y="469.50" width="1.7" height="1.4" rx="0.4" fill="#231f20"/>
<rect x="283.95" y="472.60" width="1.7" height="1.4" rx="0.4" fill="#231f20"/>
<path d="M388.50,462.50 H417.50 V469.50 H424.50 V476.50 H450.50 V484.50 H452.50 V491.50 H508.50" fill="none" stroke="#9c5a66" stroke-width="0.9"/>
<path d="M388.50,462.50 H397.50 V468.50 H401.50 V476.50 H408.50 V482.50 H409.50 V488.50 H411.50 V496.50 H412.50 V502.50 H413.50 V508.50 H414.50 V516.50 H416.50 V522.50 H424.50 V529.50 H456.50 V536.50 H464.50 V542.50 H464.50" fill="none" stroke="#717bb0" stroke-width="0.9"/>
<rect x="416.35" y="468.02" width="2.4" height="2.4" rx="0.5" fill="#231f20"/>
<rect x="423.15" y="475.70" width="2.4" height="2.4" rx="0.5" fill="#231f20"/>
<rect x="449.55" y="483.06" width="2.4" height="2.4" rx="0.5" fill="#231f20"/>
<rect x="451.55" y="490.10" width="2.4" height="2.4" rx="0.5" fill="#231f20"/>
<rect x="507.55" y="490.10" width="2.4" height="2.4" rx="0.5" fill="#231f20"/>
<rect x="396.31" y="467.70" width="2.4" height="2.4" rx="0.5" fill="#231f20"/>
<rect x="400.05" y="474.90" width="2.4" height="2.4" rx="0.5" fill="#231f20"/>
<rect x="407.55" y="481.30" width="2.4" height="2.4" rx="0.5" fill="#231f20"/>
<rect x="408.75" y="487.70" width="2.4" height="2.4" rx="0.5" fill="#231f20"/>
<rect x="409.95" y="494.90" width="2.4" height="2.4" rx="0.5" fill="#231f20"/>
<rect x="411.79" y="501.30" width="2.4" height="2.4" rx="0.5" fill="#231f20"/>
<rect x="412.75" y="507.70" width="2.4" height="2.4" rx="0.5" fill="#231f20"/>
<rect x="413.79" y="514.90" width="2.4" height="2.4" rx="0.5" fill="#231f20"/>
<rect x="415.55" y="521.30" width="2.4" height="2.4" rx="0.5" fill="#231f20"/>
<rect x="423.79" y="528.10" width="2.4" height="2.4" rx="0.5" fill="#231f20"/>
<rect x="455.79" y="534.90" width="2.4" height="2.4" rx="0.5" fill="#231f20"/>
<rect x="463.31" y="541.30" width="2.4" height="2.4" rx="0.5" fill="#231f20"/>
<line x1="388.75" y1="462.50" x2="388.75" y2="548.50" stroke="#3a3a3a" stroke-width="1.0" />
<line x1="388.25" y1="542.50" x2="509.25" y2="542.50" stroke="#3a3a3a" stroke-width="1.0" />
<line x1="382.95" y1="542.50" x2="388.75" y2="542.50" stroke="#3a3a3a" stroke-width="1.0" />
<text x="379.85" y="545.60" font-size="8.4" text-anchor="end" font-weight="normal" >0</text>
<line x1="382.95" y1="526.50" x2="388.75" y2="526.50" stroke="#3a3a3a" stroke-width="1.0" />
<text x="379.85" y="529.60" font-size="8.4" text-anchor="end" font-weight="normal" >20</text>
<line x1="382.95" y1="510.50" x2="388.75" y2="510.50" stroke="#3a3a3a" stroke-width="1.0" />
<text x="379.85" y="513.60" font-size="8.4" text-anchor="end" font-weight="normal" >40</text>
<line x1="382.95" y1="494.50" x2="388.75" y2="494.50" stroke="#3a3a3a" stroke-width="1.0" />
<text x="379.85" y="497.60" font-size="8.4" text-anchor="end" font-weight="normal" >60</text>
<line x1="382.95" y1="478.50" x2="388.75" y2="478.50" stroke="#3a3a3a" stroke-width="1.0" />
<text x="379.85" y="481.60" font-size="8.4" text-anchor="end" font-weight="normal" >80</text>
<line x1="382.95" y1="462.50" x2="388.75" y2="462.50" stroke="#3a3a3a" stroke-width="1.0" />
<text x="379.85" y="465.60" font-size="8.4" text-anchor="end" font-weight="normal" >100</text>
<line x1="388.75" y1="542.50" x2="388.75" y2="548.50" stroke="#3a3a3a" stroke-width="1.0" />
<text x="388.75" y="559.00" font-size="8.8" text-anchor="middle" font-weight="normal" >0</text>
<line x1="428.75" y1="542.50" x2="428.75" y2="548.50" stroke="#3a3a3a" stroke-width="1.0" />
<text x="428.75" y="559.00" font-size="8.8" text-anchor="middle" font-weight="normal" >100</text>
<line x1="468.75" y1="542.50" x2="468.75" y2="548.50" stroke="#3a3a3a" stroke-width="1.0" />
<text x="468.75" y="559.00" font-size="8.8" text-anchor="middle" font-weight="normal" >200</text>
<line x1="508.75" y1="542.50" x2="508.75" y2="548.50" stroke="#3a3a3a" stroke-width="1.0" />
<text x="508.75" y="559.00" font-size="8.8" text-anchor="middle" font-weight="normal" >300</text>
<text x="0" y="0" font-size="8.7" text-anchor="middle" transform="translate(362.45,503.10) rotate(-90)">Percent survival</text>
<text x="449.75" y="571.40" font-size="9" text-anchor="middle" font-weight="normal" >Days after tumor resection</text>
<path d="M464.80,461.80 H462.00 V475.70 H464.80" fill="none" stroke="#3a3a3a" stroke-width="0.95"/>
<line x1="465.80" y1="463.50" x2="482.70" y2="463.50" stroke="#717bb0" stroke-width="0.9" />
<line x1="465.80" y1="474.50" x2="482.70" y2="474.50" stroke="#9c5a66" stroke-width="0.9" />
<rect x="473.50" y="461.90" width="2.2" height="2.2" fill="#231f20"/>
<rect x="473.50" y="473.40" width="2.2" height="2.2" fill="#231f20"/>
<text x="487.00" y="465.80" font-size="9" text-anchor="start" font-weight="normal" >Ang2<tspan font-size="5.6" dy="-3.0">WT</tspan></text>
<text x="487.00" y="477.20" font-size="9" text-anchor="start" font-weight="normal" >Ang2<tspan font-size="5.6" dy="-3.0">KO</tspan></text>
<rect x="457.95" y="464.95" width="1.7" height="1.4" rx="0.4" fill="#231f20"/>
<rect x="457.95" y="468.05" width="1.7" height="1.4" rx="0.4" fill="#231f20"/>
<rect x="457.95" y="471.15" width="1.7" height="1.4" rx="0.4" fill="#231f20"/>
<text x="215.00" y="13.70" font-size="9" text-anchor="start" font-weight="normal" >Melanoma tissue microarray</text>
<line x1="215.00" y1="14.90" x2="328.00" y2="14.90" stroke="#231f20" stroke-width="0.65" />
<text x="418.80" y="13.50" font-size="9" text-anchor="start" font-weight="normal" >SKCM-TCGA</text>
<line x1="418.80" y1="14.70" x2="472.80" y2="14.70" stroke="#231f20" stroke-width="0.65" />
<text x="63.75" y="444.70" font-size="9" text-anchor="start" font-weight="normal" >Adjuvant</text>
<line x1="63.75" y1="445.90" x2="98.75" y2="445.90" stroke="#231f20" stroke-width="0.65" />
<text x="232.50" y="444.70" font-size="9" text-anchor="start" font-weight="normal" >Neoadjuvant</text>
<line x1="232.50" y1="445.90" x2="283.00" y2="445.90" stroke="#231f20" stroke-width="0.65" />
<text x="420.50" y="444.70" font-size="9" text-anchor="start" font-weight="normal" >Genetic</text>
<line x1="420.50" y1="445.90" x2="451.50" y2="445.90" stroke="#231f20" stroke-width="0.65" />
<text x="61.60" y="13.60" font-size="9" text-anchor="middle" font-weight="normal" >High Ang2</text>
<text x="122.60" y="13.60" font-size="9" text-anchor="middle" font-weight="normal" >Low Ang2</text>
<text x="0" y="0" font-size="9" text-anchor="middle" transform="translate(9.4,76.9) rotate(-90)">Metastasis samples</text>
<line x1="10.6" y1="37.4" x2="10.6" y2="116.4" stroke="#231f20" stroke-width="0.6"/>
<text x="0" y="0" font-size="9" text-anchor="middle" transform="translate(9.4,207.5) rotate(-90)">Primary tumor samples</text>
<line x1="10.6" y1="161.2" x2="10.6" y2="253.8" stroke="#231f20" stroke-width="0.6"/>
<defs>
<clipPath id="cc0"><circle cx="61.5" cy="50.6" r="29"/></clipPath>
<clipPath id="cc1"><circle cx="122.6" cy="50.6" r="29"/></clipPath>
<clipPath id="cc2"><circle cx="61.5" cy="111.5" r="29"/></clipPath>
<clipPath id="cc3"><circle cx="122.6" cy="111.5" r="29"/></clipPath>
<clipPath id="cc4"><circle cx="61.5" cy="179.7" r="29"/></clipPath>
<clipPath id="cc5"><circle cx="122.6" cy="179.7" r="29"/></clipPath>
<clipPath id="cc6"><circle cx="61.5" cy="240.3" r="29"/></clipPath>
<clipPath id="cc7"><circle cx="122.6" cy="240.3" r="29"/></clipPath>
<filter id="t0" x="0" y="0" width="100%" height="100%" color-interpolation-filters="sRGB"><feTurbulence type="fractalNoise" baseFrequency="0.36" numOctaves="3" seed="3"/><feColorMatrix type="matrix" values="0.450 0 0 0 0.653 0.450 0 0 0 0.677 0.450 0 0 0 0.642 0 0 0 0 1"/><feComposite in2="SourceGraphic" operator="in"/></filter>
<filter id="t1" x="0" y="0" width="100%" height="100%" color-interpolation-filters="sRGB"><feTurbulence type="fractalNoise" baseFrequency="0.36" numOctaves="3" seed="4"/><feColorMatrix type="matrix" values="0.450 0 0 0 0.638 0.400 0 0 0 0.702 0.360 0 0 0 0.738 0 0 0 0 1"/><feComposite in2="SourceGraphic" operator="in"/></filter>
<filter id="t2" x="0" y="0" width="100%" height="100%" color-interpolation-filters="sRGB"><feTurbulence type="fractalNoise" baseFrequency="0.36" numOctaves="3" seed="5"/><feColorMatrix type="matrix" values="0.400 0 0 0 0.714 0.400 0 0 0 0.725 0.400 0 0 0 0.694 0 0 0 0 1"/><feComposite in2="SourceGraphic" operator="in"/></filter>
<filter id="t3" x="0" y="0" width="100%" height="100%" color-interpolation-filters="sRGB"><feTurbulence type="fractalNoise" baseFrequency="0.36" numOctaves="3" seed="6"/><feColorMatrix type="matrix" values="0.450 0 0 0 0.642 0.400 0 0 0 0.706 0.360 0 0 0 0.738 0 0 0 0 1"/><feComposite in2="SourceGraphic" operator="in"/></filter>
<filter id="t4" x="0" y="0" width="100%" height="100%" color-interpolation-filters="sRGB"><feTurbulence type="fractalNoise" baseFrequency="0.36" numOctaves="3" seed="7"/><feColorMatrix type="matrix" values="0.720 0 0 0 0.354 0.720 0 0 0 0.393 0.720 0 0 0 0.362 0 0 0 0 1"/><feComposite in2="SourceGraphic" operator="in"/></filter>
<filter id="t5" x="0" y="0" width="100%" height="100%" color-interpolation-filters="sRGB"><feTurbulence type="fractalNoise" baseFrequency="0.36" numOctaves="3" seed="8"/><feColorMatrix type="matrix" values="0.360 0 0 0 0.655 0.360 0 0 0 0.679 0.360 0 0 0 0.683 0 0 0 0 1"/><feComposite in2="SourceGraphic" operator="in"/></filter>
<filter id="t6" x="0" y="0" width="100%" height="100%" color-interpolation-filters="sRGB"><feTurbulence type="fractalNoise" baseFrequency="0.36" numOctaves="3" seed="9"/><feColorMatrix type="matrix" values="0.400 0 0 0 0.714 0.400 0 0 0 0.706 0.400 0 0 0 0.639 0 0 0 0 1"/><feComposite in2="SourceGraphic" operator="in"/></filter>
<filter id="t7" x="0" y="0" width="100%" height="100%" color-interpolation-filters="sRGB"><feTurbulence type="fractalNoise" baseFrequency="0.36" numOctaves="3" seed="10"/><feColorMatrix type="matrix" values="0.450 0 0 0 0.630 0.400 0 0 0 0.698 0.360 0 0 0 0.745 0 0 0 0 1"/><feComposite in2="SourceGraphic" operator="in"/></filter>
<filter id="sb" x="0" y="0" width="100%" height="100%" color-interpolation-filters="sRGB"><feTurbulence type="fractalNoise" baseFrequency="0.55" numOctaves="2" seed="12"/><feColorMatrix type="matrix" values="0 0 0 0 0.659 0 0 0 0 0.580 0 0 0 0 0.408 3.6 0 0 0 -1.75"/><feComposite in2="SourceGraphic" operator="in"/></filter>
<filter id="sd" x="0" y="0" width="100%" height="100%" color-interpolation-filters="sRGB"><feTurbulence type="fractalNoise" baseFrequency="0.6" numOctaves="2" seed="13"/><feColorMatrix type="matrix" values="0 0 0 0 0.369 0 0 0 0 0.290 0 0 0 0 0.188 3.6 0 0 0 -1.9"/><feComposite in2="SourceGraphic" operator="in"/></filter>
<filter id="sw" x="0" y="0" width="100%" height="100%" color-interpolation-filters="sRGB"><feTurbulence type="fractalNoise" baseFrequency="0.55" numOctaves="2" seed="14"/><feColorMatrix type="matrix" values="0 0 0 0 0.957 0 0 0 0 0.965 0 0 0 0 0.949 2.6 0 0 0 -1.25"/><feComposite in2="SourceGraphic" operator="in"/></filter>
<filter id="bl1" x="-50%" y="-50%" width="200%" height="200%"><feGaussianBlur stdDeviation="2.2"/></filter>
<filter id="bl2" x="-50%" y="-50%" width="200%" height="200%"><feGaussianBlur stdDeviation="0.45"/></filter>
<filter id="bl4" x="-50%" y="-50%" width="200%" height="200%"><feGaussianBlur stdDeviation="0.9"/></filter>
<filter id="bl3" x="-50%" y="-50%" width="200%" height="200%"><feGaussianBlur stdDeviation="3"/></filter>
</defs>
<g clip-path="url(#cc0)">
<rect x="32.5" y="21.6" width="58" height="58" fill="#000" filter="url(#t0)"/>
<g filter="url(#bl1)">
<ellipse cx="44" cy="45" rx="8" ry="16" fill="#cabc8e" opacity="0.65"/>
<ellipse cx="78" cy="40" rx="9" ry="10" fill="#ccbf92" opacity="0.65"/>
<ellipse cx="47" cy="66" rx="6" ry="6" fill="#a08a62" opacity="0.55"/>
<ellipse cx="61" cy="55" rx="4" ry="13" fill="#e0eaec" opacity="0.6"/>
<ellipse cx="72" cy="68" rx="10" ry="8" fill="#dad8c4" opacity="0.5"/>
</g>
<mask id="m1" maskUnits="userSpaceOnUse" x="32.5" y="21.6" width="58" height="58"><g filter="url(#bl3)">
<ellipse cx="42" cy="42" rx="7" ry="10" fill="#fff" opacity="1"/>
<ellipse cx="46" cy="58" rx="7" ry="8" fill="#fff" opacity="1"/>
<ellipse cx="52" cy="34" rx="5" ry="5" fill="#fff" opacity="0.8"/>
<ellipse cx="60" cy="28" rx="6" ry="4" fill="#fff" opacity="0.7"/>
<ellipse cx="74" cy="36" rx="7" ry="6" fill="#fff" opacity="1"/>
<ellipse cx="82" cy="46" rx="6" ry="7" fill="#fff" opacity="1"/>
<ellipse cx="70" cy="48" rx="5" ry="5" fill="#fff" opacity="0.7"/>
<ellipse cx="78" cy="60" rx="5" ry="5" fill="#fff" opacity="0.5"/>
<ellipse cx="66" cy="72" rx="8" ry="5" fill="#fff" opacity="0.45"/>
<ellipse cx="57" cy="48" rx="3" ry="10" fill="#fff" opacity="0.35"/>
</g></mask>
<g mask="url(#m1)" opacity="1.0"><rect x="32.5" y="21.6" width="58" height="58" fill="#000" filter="url(#sb)"/></g>
<mask id="m2" maskUnits="userSpaceOnUse" x="32.5" y="21.6" width="58" height="58"><g filter="url(#bl3)">
<ellipse cx="47" cy="64" rx="6" ry="6" fill="#fff" opacity="1"/>
<ellipse cx="43" cy="54" rx="4" ry="7" fill="#fff" opacity="0.8"/>
<ellipse cx="52" cy="68" rx="4" ry="3" fill="#fff" opacity="0.8"/>
<ellipse cx="44" cy="36" rx="3" ry="4" fill="#fff" opacity="0.5"/>
<ellipse cx="80" cy="42" rx="4" ry="4" fill="#fff" opacity="0.5"/>
</g></mask>
<g mask="url(#m2)" opacity="1.0"><rect x="32.5" y="21.6" width="58" height="58" fill="#000" filter="url(#sd)"/></g>
<g filter="url(#bl2)">
<ellipse cx="57.9" cy="62.0" rx="0.63" ry="0.41" fill="#b0a070" opacity="0.69"/>
<ellipse cx="80.7" cy="36.9" rx="0.65" ry="0.54" fill="#a89468" opacity="0.48"/>
<ellipse cx="80.8" cy="47.3" rx="0.61" ry="0.56" fill="#c0b080" opacity="0.56"/>
<ellipse cx="74.6" cy="38.7" rx="0.59" ry="0.43" fill="#c0b080" opacity="0.59"/>
<ellipse cx="42.2" cy="53.2" rx="0.78" ry="0.50" fill="#a89468" opacity="0.66"/>
<ellipse cx="53.9" cy="57.4" rx="0.71" ry="0.43" fill="#a89468" opacity="0.67"/>
<ellipse cx="48.8" cy="48.1" rx="0.68" ry="0.56" fill="#988050" opacity="0.57"/>
<ellipse cx="45.1" cy="41.8" rx="0.50" ry="0.25" fill="#a89468" opacity="0.66"/>
<ellipse cx="45.9" cy="37.1" rx="0.70" ry="0.44" fill="#988050" opacity="0.42"/>
<ellipse cx="41.4" cy="53.4" rx="0.63" ry="0.60" fill="#c0b080" opacity="0.78"/>
<ellipse cx="51.0" cy="66.5" rx="0.52" ry="0.39" fill="#a89468" opacity="0.70"/>
<ellipse cx="82.0" cy="46.1" rx="0.44" ry="0.28" fill="#988050" opacity="0.65"/>
<ellipse cx="45.0" cy="37.6" rx="0.47" ry="0.29" fill="#b0a070" opacity="0.46"/>
<ellipse cx="47.1" cy="55.4" rx="0.51" ry="0.36" fill="#c0b080" opacity="0.62"/>
<ellipse cx="46.7" cy="41.9" rx="0.68" ry="0.60" fill="#b0a070" opacity="0.74"/>
<ellipse cx="77.6" cy="48.0" rx="0.45" ry="0.44" fill="#988050" opacity="0.74"/>
<ellipse cx="78.6" cy="44.2" rx="0.70" ry="0.45" fill="#a89468" opacity="0.60"/>
<ellipse cx="70.5" cy="37.1" rx="0.64" ry="0.59" fill="#988050" opacity="0.69"/>
<ellipse cx="48.7" cy="46.0" rx="0.75" ry="0.54" fill="#b0a070" opacity="0.43"/>
<ellipse cx="72.9" cy="35.7" rx="0.46" ry="0.41" fill="#988050" opacity="0.53"/>
<ellipse cx="76.7" cy="46.0" rx="0.54" ry="0.36" fill="#b0a070" opacity="0.80"/>
<ellipse cx="48.5" cy="65.4" rx="0.61" ry="0.51" fill="#a89468" opacity="0.45"/>
<ellipse cx="58.3" cy="59.4" rx="0.43" ry="0.34" fill="#c0b080" opacity="0.47"/>
<ellipse cx="55.1" cy="64.4" rx="0.38" ry="0.20" fill="#c0b080" opacity="0.44"/>
<ellipse cx="79.2" cy="47.3" rx="0.49" ry="0.41" fill="#a89468" opacity="0.43"/>
<ellipse cx="48.4" cy="63.2" rx="0.45" ry="0.35" fill="#b0a070" opacity="0.72"/>
<ellipse cx="39.9" cy="43.0" rx="0.49" ry="0.34" fill="#c0b080" opacity="0.41"/>
<ellipse cx="80.2" cy="45.9" rx="0.65" ry="0.50" fill="#988050" opacity="0.47"/>
<ellipse cx="48.8" cy="64.9" rx="0.57" ry="0.52" fill="#988050" opacity="0.59"/>
<ellipse cx="48.8" cy="65.6" rx="0.72" ry="0.52" fill="#b0a070" opacity="0.51"/>
<ellipse cx="79.1" cy="43.0" rx="0.47" ry="0.28" fill="#988050" opacity="0.74"/>
<ellipse cx="40.0" cy="38.2" rx="0.44" ry="0.33" fill="#c0b080" opacity="0.62"/>
<ellipse cx="36.2" cy="51.2" rx="0.54" ry="0.45" fill="#a89468" opacity="0.68"/>
<ellipse cx="77.2" cy="31.3" rx="0.45" ry="0.29" fill="#988050" opacity="0.68"/>
<ellipse cx="50.2" cy="60.9" rx="0.47" ry="0.34" fill="#c0b080" opacity="0.54"/>
<ellipse cx="74.0" cy="33.2" rx="0.40" ry="0.39" fill="#b0a070" opacity="0.70"/>
<ellipse cx="47.6" cy="55.5" rx="0.54" ry="0.50" fill="#c0b080" opacity="0.79"/>
<ellipse cx="73.6" cy="34.2" rx="0.31" ry="0.30" fill="#a89468" opacity="0.51"/>
<ellipse cx="49.1" cy="67.1" rx="0.62" ry="0.31" fill="#988050" opacity="0.44"/>
<ellipse cx="77.5" cy="38.9" rx="0.39" ry="0.37" fill="#b0a070" opacity="0.50"/>
<ellipse cx="46.5" cy="42.2" rx="0.34" ry="0.31" fill="#b0a070" opacity="0.46"/>
<ellipse cx="71.4" cy="35.5" rx="0.58" ry="0.52" fill="#988050" opacity="0.64"/>
<ellipse cx="45.9" cy="41.7" rx="0.75" ry="0.75" fill="#c0b080" opacity="0.74"/>
<ellipse cx="79.1" cy="32.1" rx="0.78" ry="0.47" fill="#b0a070" opacity="0.78"/>
<ellipse cx="38.7" cy="33.3" rx="0.42" ry="0.30" fill="#b0a070" opacity="0.46"/>
<ellipse cx="53.3" cy="56.7" rx="0.42" ry="0.30" fill="#c0b080" opacity="0.68"/>
<ellipse cx="48.3" cy="56.2" rx="0.70" ry="0.54" fill="#a89468" opacity="0.57"/>
<ellipse cx="47.1" cy="56.3" rx="0.37" ry="0.24" fill="#b0a070" opacity="0.47"/>
<ellipse cx="51.1" cy="59.5" rx="0.45" ry="0.34" fill="#988050" opacity="0.78"/>
<ellipse cx="77.0" cy="41.8" rx="0.74" ry="0.38" fill="#c0b080" opacity="0.64"/>
<ellipse cx="47.8" cy="69.5" rx="1.10" ry="0.87" fill="#5a3c1e" opacity="0.91"/>
<ellipse cx="46.7" cy="66.5" rx="1.05" ry="0.75" fill="#6b4a26" opacity="0.95"/>
<ellipse cx="51.7" cy="64.7" rx="0.75" ry="0.69" fill="#7a5530" opacity="0.87"/>
<ellipse cx="46.1" cy="65.0" rx="0.90" ry="0.70" fill="#7a5530" opacity="0.90"/>
<ellipse cx="42.9" cy="62.5" rx="0.57" ry="0.52" fill="#7a5530" opacity="0.92"/>
<ellipse cx="48.6" cy="65.4" rx="0.75" ry="0.61" fill="#6b4a26" opacity="0.83"/>
<ellipse cx="48.3" cy="67.6" rx="0.62" ry="0.40" fill="#5a3c1e" opacity="0.73"/>
<ellipse cx="48.1" cy="62.4" rx="0.60" ry="0.42" fill="#5a3c1e" opacity="0.70"/>
<ellipse cx="46.6" cy="61.2" rx="1.00" ry="0.65" fill="#7a5530" opacity="0.93"/>
<ellipse cx="46.2" cy="64.8" rx="0.78" ry="0.54" fill="#7a5530" opacity="0.84"/>
<ellipse cx="50.6" cy="62.8" rx="0.97" ry="0.87" fill="#7a5530" opacity="0.78"/>
<ellipse cx="50.2" cy="62.8" rx="0.68" ry="0.56" fill="#5a3c1e" opacity="0.84"/>
<ellipse cx="46.5" cy="64.8" rx="0.70" ry="0.68" fill="#5a3c1e" opacity="0.79"/>
<ellipse cx="45.8" cy="68.6" rx="0.75" ry="0.64" fill="#7a5530" opacity="0.89"/>
</g>
<g filter="url(#bl2)"><path d="M43.8,65.0 Q44.9,64.7 45.3,65.7" stroke="#8a6a3a" stroke-width="0.70" fill="none" opacity="0.41" stroke-linecap="round"/><path d="M39.0,44.8 Q39.4,45.4 40.0,45.5" stroke="#b49a60" stroke-width="0.51" fill="none" opacity="0.67" stroke-linecap="round"/><path d="M47.5,33.4 Q48.7,33.7 48.8,34.9" stroke="#6a5030" stroke-width="0.45" fill="none" opacity="0.57" stroke-linecap="round"/><path d="M85.1,41.1 Q84.2,42.0 83.4,43.1" stroke="#b49a60" stroke-width="0.44" fill="none" opacity="0.53" stroke-linecap="round"/><path d="M52.3,66.2 Q52.6,67.8 51.0,68.0" stroke="#a08450" stroke-width="0.79" fill="none" opacity="0.84" stroke-linecap="round"/><path d="M50.7,40.7 Q50.3,41.9 49.0,41.7" stroke="#6a5030" stroke-width="0.50" fill="none" opacity="0.52" stroke-linecap="round"/><path d="M52.6,63.0 Q52.5,63.9 51.6,64.1" stroke="#b49a60" stroke-width="0.53" fill="none" opacity="0.82" stroke-linecap="round"/><path d="M51.8,63.7 Q51.4,65.3 49.8,65.5" stroke="#8a6a3a" stroke-width="0.80" fill="none" opacity="0.58" stroke-linecap="round"/><path d="M49.6,37.9 Q48.9,39.5 50.4,40.2" stroke="#b49a60" stroke-width="0.47" fill="none" opacity="0.46" stroke-linecap="round"/><path d="M51.9,58.3 Q50.9,58.9 49.8,59.0" stroke="#a08450" stroke-width="0.90" fill="none" opacity="0.46" stroke-linecap="round"/><path d="M70.7,41.3 Q72.3,42.2 71.3,43.8" stroke="#b49a60" stroke-width="0.70" fill="none" opacity="0.61" stroke-linecap="round"/><path d="M81.6,40.0 Q82.0,41.1 80.9,41.5" stroke="#b49a60" stroke-width="0.48" fill="none" opacity="0.40" stroke-linecap="round"/><path d="M54.4,58.1 Q54.7,59.6 56.2,59.2" stroke="#6a5030" stroke-width="0.82" fill="none" opacity="0.63" stroke-linecap="round"/><path d="M39.3,52.7 Q38.4,53.3 37.6,54.1" stroke="#8a6a3a" stroke-width="0.70" fill="none" opacity="0.62" stroke-linecap="round"/><path d="M49.9,38.6 Q49.0,38.2 48.7,39.1" stroke="#8a6a3a" stroke-width="0.77" fill="none" opacity="0.77" stroke-linecap="round"/><path d="M53.9,55.8 Q54.3,56.9 53.6,57.8" stroke="#b49a60" stroke-width="0.88" fill="none" opacity="0.82" stroke-linecap="round"/><path d="M53.2,64.2 Q52.9,65.1 52.2,65.8" stroke="#b49a60" stroke-width="0.46" fill="none" opacity="0.50" stroke-linecap="round"/><path d="M68.2,41.1 Q69.4,41.6 70.5,41.1" stroke="#8a6a3a" stroke-width="0.51" fill="none" opacity="0.81" stroke-linecap="round"/><path d="M81.7,34.1 Q81.0,34.2 80.3,34.4" stroke="#b49a60" stroke-width="0.52" fill="none" opacity="0.61" stroke-linecap="round"/><path d="M77.4,37.7 Q76.4,38.2 76.1,39.2" stroke="#8a6a3a" stroke-width="0.43" fill="none" opacity="0.73" stroke-linecap="round"/><path d="M39.7,34.1 Q40.5,35.0 40.2,36.1" stroke="#a08450" stroke-width="0.84" fill="none" opacity="0.43" stroke-linecap="round"/><path d="M43.3,64.1 Q44.4,63.1 45.5,64.2" stroke="#a08450" stroke-width="0.48" fill="none" opacity="0.62" stroke-linecap="round"/><path d="M41.4,57.6 Q41.8,59.0 43.1,59.7" stroke="#b49a60" stroke-width="0.48" fill="none" opacity="0.53" stroke-linecap="round"/><path d="M44.0,46.1 Q45.2,46.6 46.5,46.6" stroke="#a08450" stroke-width="0.43" fill="none" opacity="0.63" stroke-linecap="round"/><path d="M50.1,40.5 Q49.5,41.9 49.5,43.3" stroke="#8a6a3a" stroke-width="0.71" fill="none" opacity="0.59" stroke-linecap="round"/><path d="M51.3,58.7 Q51.2,59.6 50.5,60.1" stroke="#6a5030" stroke-width="0.60" fill="none" opacity="0.70" stroke-linecap="round"/><path d="M75.8,48.5 Q77.2,49.0 78.7,48.6" stroke="#8a6a3a" stroke-width="0.44" fill="none" opacity="0.50" stroke-linecap="round"/><path d="M70.9,36.5 Q71.6,36.7 71.9,37.4" stroke="#b49a60" stroke-width="0.82" fill="none" opacity="0.72" stroke-linecap="round"/><path d="M51.5,64.1 Q50.6,65.4 49.3,64.6" stroke="#a08450" stroke-width="0.53" fill="none" opacity="0.80" stroke-linecap="round"/><path d="M51.5,57.9 Q51.4,59.3 50.0,59.7" stroke="#6a5030" stroke-width="0.65" fill="none" opacity="0.51" stroke-linecap="round"/><path d="M36.6,42.5 Q37.5,43.1 38.3,42.6" stroke="#6a5030" stroke-width="0.48" fill="none" opacity="0.60" stroke-linecap="round"/><path d="M49.6,54.9 Q48.8,54.5 48.4,55.4" stroke="#8a6a3a" stroke-width="0.82" fill="none" opacity="0.66" stroke-linecap="round"/><path d="M43.8,30.1 Q42.7,29.3 42.0,30.5" stroke="#8a6a3a" stroke-width="0.85" fill="none" opacity="0.49" stroke-linecap="round"/><path d="M47.7,39.9 Q46.2,39.2 45.7,40.7" stroke="#a08450" stroke-width="0.86" fill="none" opacity="0.51" stroke-linecap="round"/><path d="M49.0,38.8 Q47.1,38.6 46.6,40.5" stroke="#a08450" stroke-width="0.53" fill="none" opacity="0.75" stroke-linecap="round"/><path d="M41.3,29.6 Q41.5,31.1 42.9,30.8" stroke="#6a5030" stroke-width="0.55" fill="none" opacity="0.76" stroke-linecap="round"/><path d="M39.0,49.4 Q40.3,49.5 40.2,50.9" stroke="#6a5030" stroke-width="0.58" fill="none" opacity="0.63" stroke-linecap="round"/><path d="M55.4,62.0 Q56.2,64.0 58.1,63.0" stroke="#a08450" stroke-width="0.69" fill="none" opacity="0.84" stroke-linecap="round"/><path d="M37.0,41.9 Q37.5,43.1 38.4,44.0" stroke="#8a6a3a" stroke-width="0.59" fill="none" opacity="0.66" stroke-linecap="round"/><path d="M70.7,38.1 Q69.5,38.3 68.9,39.3" stroke="#a08450" stroke-width="0.58" fill="none" opacity="0.43" stroke-linecap="round"/></g>
</g>
<circle cx="61.5" cy="50.6" r="28.6" fill="none" stroke="#4c4c4c" stroke-width="1.15" stroke-dasharray="2.6 2.4"/>
<g clip-path="url(#cc1)">
<rect x="93.6" y="21.6" width="58" height="58" fill="#000" filter="url(#t1)"/>
<g filter="url(#bl1)">
<ellipse cx="112" cy="40" rx="10" ry="8" fill="#e8eef2" opacity="0.6"/>
<ellipse cx="135" cy="62" rx="10" ry="8" fill="#e8eef2" opacity="0.5"/>
<ellipse cx="118" cy="65" rx="8" ry="6" fill="#cbd7e2" opacity="0.5"/>
</g>
<mask id="m3" maskUnits="userSpaceOnUse" x="93.6" y="21.6" width="58" height="58"><g filter="url(#bl3)">
<ellipse cx="122" cy="50" rx="26" ry="26" fill="#fff" opacity="1"/>
</g></mask>
<g mask="url(#m3)" opacity="0.8"><rect x="93.6" y="21.6" width="58" height="58" fill="#000" filter="url(#sw)"/></g>
</g>
<circle cx="122.6" cy="50.6" r="28.6" fill="none" stroke="#4c4c4c" stroke-width="1.15" stroke-dasharray="2.6 2.4"/>
<g clip-path="url(#cc2)">
<rect x="32.5" y="82.5" width="58" height="58" fill="#000" filter="url(#t2)"/>
<g filter="url(#bl1)">
<ellipse cx="52" cy="127" rx="10" ry="4" fill="#d8c89a" opacity="0.6"/>
<ellipse cx="70" cy="100" rx="12" ry="10" fill="#e8ece4" opacity="0.5"/>
</g>
<mask id="m4" maskUnits="userSpaceOnUse" x="32.5" y="82.5" width="58" height="58"><g filter="url(#bl3)">
<ellipse cx="61" cy="111" rx="24" ry="24" fill="#fff" opacity="0.18"/>
</g></mask>
<g mask="url(#m4)" opacity="0.7"><rect x="32.5" y="82.5" width="58" height="58" fill="#000" filter="url(#sb)"/></g>
<g filter="url(#bl2)"><path d="M57.3,120.2 Q55.3,120.4 53.4,120.5" stroke="#a08450" stroke-width="0.40" fill="none" opacity="0.89" stroke-linecap="round"/><path d="M59.2,111.8 Q58.5,113.1 57.4,114.0" stroke="#7a7060" stroke-width="0.74" fill="none" opacity="0.53" stroke-linecap="round"/><path d="M54.3,121.1 Q52.1,120.6 51.2,122.7" stroke="#9a8a70" stroke-width="0.50" fill="none" opacity="0.63" stroke-linecap="round"/><path d="M40.3,118.6 Q38.2,117.3 36.1,118.6" stroke="#6a5030" stroke-width="0.74" fill="none" opacity="0.80" stroke-linecap="round"/><path d="M56.4,121.7 Q58.2,123.5 60.5,122.3" stroke="#b89a60" stroke-width="0.49" fill="none" opacity="0.67" stroke-linecap="round"/><path d="M61.5,114.1 Q64.2,113.4 64.9,116.0" stroke="#6a5030" stroke-width="0.60" fill="none" opacity="0.60" stroke-linecap="round"/><path d="M47.8,117.7 Q45.8,118.3 46.3,120.2" stroke="#6a5030" stroke-width="0.71" fill="none" opacity="0.77" stroke-linecap="round"/><path d="M85.6,120.6 Q85.1,122.8 87.3,122.9" stroke="#6a5030" stroke-width="0.39" fill="none" opacity="0.65" stroke-linecap="round"/><path d="M66.7,138.0 Q65.5,137.7 64.3,138.2" stroke="#b89a60" stroke-width="0.35" fill="none" opacity="0.85" stroke-linecap="round"/><path d="M85.6,124.1 Q83.3,123.5 81.8,125.3" stroke="#8a6a3a" stroke-width="0.59" fill="none" opacity="0.64" stroke-linecap="round"/><path d="M68.9,119.5 Q66.7,120.4 67.1,122.7" stroke="#7a7060" stroke-width="0.39" fill="none" opacity="0.75" stroke-linecap="round"/><path d="M52.3,107.1 Q52.4,109.4 50.1,109.5" stroke="#b89a60" stroke-width="0.48" fill="none" opacity="0.67" stroke-linecap="round"/><path d="M41.9,111.4 Q39.5,113.4 41.4,115.8" stroke="#8a6a3a" stroke-width="0.45" fill="none" opacity="0.83" stroke-linecap="round"/><path d="M80.1,127.6 Q81.3,128.8 82.9,128.3" stroke="#8a6a3a" stroke-width="0.69" fill="none" opacity="0.79" stroke-linecap="round"/><path d="M54.3,126.4 Q54.3,127.2 54.2,128.0" stroke="#7a7060" stroke-width="0.65" fill="none" opacity="0.60" stroke-linecap="round"/><path d="M41.1,96.8 Q40.3,97.0 39.6,97.4" stroke="#9a8a70" stroke-width="0.44" fill="none" opacity="0.53" stroke-linecap="round"/><path d="M82.4,100.2 Q83.0,102.1 84.8,101.4" stroke="#b89a60" stroke-width="0.75" fill="none" opacity="0.55" stroke-linecap="round"/><path d="M60.8,120.4 Q59.1,121.1 57.2,121.0" stroke="#7a7060" stroke-width="0.64" fill="none" opacity="0.85" stroke-linecap="round"/><path d="M78.1,116.1 Q78.8,118.4 80.9,119.4" stroke="#8a6a3a" stroke-width="0.53" fill="none" opacity="0.88" stroke-linecap="round"/><path d="M41.4,121.4 Q39.9,122.1 38.3,121.6" stroke="#6a5030" stroke-width="0.46" fill="none" opacity="0.89" stroke-linecap="round"/><path d="M41.2,95.8 Q39.6,97.8 37.7,96.1" stroke="#b89a60" stroke-width="0.45" fill="none" opacity="0.55" stroke-linecap="round"/><path d="M44.6,94.4 Q47.2,95.3 46.7,97.9" stroke="#9a8a70" stroke-width="0.35" fill="none" opacity="0.84" stroke-linecap="round"/><path d="M86.0,113.0 Q87.2,115.3 89.7,114.3" stroke="#8a6a3a" stroke-width="0.36" fill="none" opacity="0.82" stroke-linecap="round"/><path d="M65.2,84.9 Q66.4,85.2 67.4,85.8" stroke="#a08450" stroke-width="0.65" fill="none" opacity="0.69" stroke-linecap="round"/><path d="M63.7,90.1 Q62.5,92.0 60.7,90.6" stroke="#7a7060" stroke-width="0.56" fill="none" opacity="0.68" stroke-linecap="round"/><path d="M38.5,109.2 Q37.8,110.4 37.0,111.5" stroke="#6a5030" stroke-width="0.38" fill="none" opacity="0.53" stroke-linecap="round"/><path d="M38.3,97.7 Q38.8,99.5 37.8,101.0" stroke="#9a8a70" stroke-width="0.56" fill="none" opacity="0.68" stroke-linecap="round"/><path d="M40.8,120.6 Q38.7,121.8 38.9,124.2" stroke="#7a7060" stroke-width="0.70" fill="none" opacity="0.67" stroke-linecap="round"/><path d="M57.7,128.2 Q57.3,129.6 56.0,130.2" stroke="#b89a60" stroke-width="0.62" fill="none" opacity="0.65" stroke-linecap="round"/><path d="M70.7,109.9 Q71.6,110.0 72.4,110.3" stroke="#7a7060" stroke-width="0.65" fill="none" opacity="0.82" stroke-linecap="round"/><path d="M65.0,114.4 Q66.3,114.4 67.3,115.3" stroke="#7a7060" stroke-width="0.73" fill="none" opacity="0.67" stroke-linecap="round"/><path d="M87.1,115.7 Q87.6,117.1 86.5,118.2" stroke="#7a7060" stroke-width="0.54" fill="none" opacity="0.84" stroke-linecap="round"/><path d="M80.6,102.5 Q78.8,104.0 79.7,106.2" stroke="#9a8a70" stroke-width="0.74" fill="none" opacity="0.83" stroke-linecap="round"/><path d="M65.6,119.9 Q67.5,119.1 69.2,120.2" stroke="#b89a60" stroke-width="0.72" fill="none" opacity="0.64" stroke-linecap="round"/><path d="M80.3,114.5 Q81.3,115.5 82.7,115.7" stroke="#a08450" stroke-width="0.39" fill="none" opacity="0.71" stroke-linecap="round"/><path d="M58.0,101.9 Q56.5,102.4 56.3,103.9" stroke="#9a8a70" stroke-width="0.59" fill="none" opacity="0.85" stroke-linecap="round"/><path d="M41.8,116.5 Q42.5,118.3 44.2,119.2" stroke="#6a5030" stroke-width="0.59" fill="none" opacity="0.67" stroke-linecap="round"/><path d="M74.4,89.6 Q74.8,91.0 76.1,91.7" stroke="#6a5030" stroke-width="0.56" fill="none" opacity="0.62" stroke-linecap="round"/><path d="M55.4,116.2 Q56.3,116.6 56.3,117.5" stroke="#8a6a3a" stroke-width="0.66" fill="none" opacity="0.62" stroke-linecap="round"/><path d="M44.0,103.2 Q42.5,105.0 44.0,106.8" stroke="#b89a60" stroke-width="0.38" fill="none" opacity="0.84" stroke-linecap="round"/><path d="M57.6,108.6 Q58.2,109.2 58.5,110.0" stroke="#6a5030" stroke-width="0.63" fill="none" opacity="0.67" stroke-linecap="round"/><path d="M57.4,136.5 Q56.4,136.8 55.4,136.8" stroke="#7a7060" stroke-width="0.72" fill="none" opacity="0.54" stroke-linecap="round"/><path d="M47.1,114.8 Q48.3,116.1 48.1,117.8" stroke="#b89a60" stroke-width="0.44" fill="none" opacity="0.81" stroke-linecap="round"/><path d="M63.5,90.2 Q62.2,91.2 60.6,91.1" stroke="#7a7060" stroke-width="0.73" fill="none" opacity="0.76" stroke-linecap="round"/><path d="M47.6,91.4 Q46.6,92.2 46.9,93.4" stroke="#7a7060" stroke-width="0.38" fill="none" opacity="0.88" stroke-linecap="round"/><path d="M60.4,113.6 Q58.3,114.1 58.7,116.3" stroke="#7a7060" stroke-width="0.60" fill="none" opacity="0.75" stroke-linecap="round"/><path d="M57.2,100.6 Q58.4,100.9 59.5,101.1" stroke="#b89a60" stroke-width="0.53" fill="none" opacity="0.52" stroke-linecap="round"/><path d="M68.0,110.5 Q66.7,111.7 67.5,113.3" stroke="#a08450" stroke-width="0.53" fill="none" opacity="0.82" stroke-linecap="round"/><path d="M50.9,110.0 Q52.0,109.3 52.8,110.4" stroke="#b89a60" stroke-width="0.74" fill="none" opacity="0.53" stroke-linecap="round"/><path d="M87.3,111.3 Q86.5,113.5 88.7,114.3" stroke="#6a5030" stroke-width="0.51" fill="none" opacity="0.64" stroke-linecap="round"/><path d="M76.3,119.2 Q77.0,119.8 77.9,119.7" stroke="#b89a60" stroke-width="0.45" fill="none" opacity="0.84" stroke-linecap="round"/><path d="M52.1,115.1 Q51.5,116.5 52.9,116.8" stroke="#7a7060" stroke-width="0.61" fill="none" opacity="0.55" stroke-linecap="round"/><path d="M52.8,103.8 Q50.8,104.2 49.6,105.9" stroke="#7a7060" stroke-width="0.75" fill="none" opacity="0.86" stroke-linecap="round"/><path d="M68.8,106.2 Q70.3,106.9 69.9,108.5" stroke="#8a6a3a" stroke-width="0.49" fill="none" opacity="0.81" stroke-linecap="round"/><path d="M47.5,91.5 Q47.1,92.7 46.0,92.3" stroke="#9a8a70" stroke-width="0.68" fill="none" opacity="0.85" stroke-linecap="round"/><path d="M70.7,130.2 Q71.6,132.2 69.7,133.4" stroke="#8a6a3a" stroke-width="0.68" fill="none" opacity="0.81" stroke-linecap="round"/><path d="M54.9,121.3 Q52.9,122.9 53.4,125.4" stroke="#6a5030" stroke-width="0.44" fill="none" opacity="0.60" stroke-linecap="round"/><path d="M72.2,114.4 Q70.5,114.6 70.1,116.2" stroke="#9a8a70" stroke-width="0.56" fill="none" opacity="0.89" stroke-linecap="round"/><path d="M78.3,91.0 Q76.9,91.5 77.3,93.0" stroke="#9a8a70" stroke-width="0.72" fill="none" opacity="0.78" stroke-linecap="round"/><path d="M51.0,125.4 Q50.2,126.6 48.8,126.0" stroke="#6a5030" stroke-width="0.39" fill="none" opacity="0.86" stroke-linecap="round"/><path d="M56.4,104.7 Q58.1,105.4 57.4,107.1" stroke="#8a6a3a" stroke-width="0.36" fill="none" opacity="0.87" stroke-linecap="round"/><path d="M78.3,91.3 Q77.0,91.5 76.2,92.5" stroke="#8a6a3a" stroke-width="0.65" fill="none" opacity="0.69" stroke-linecap="round"/><path d="M46.9,90.5 Q46.5,92.7 45.4,94.6" stroke="#b89a60" stroke-width="0.45" fill="none" opacity="0.55" stroke-linecap="round"/><path d="M55.8,126.9 Q56.7,128.7 58.5,127.9" stroke="#9a8a70" stroke-width="0.56" fill="none" opacity="0.75" stroke-linecap="round"/><path d="M73.0,99.6 Q73.2,100.3 73.6,100.9" stroke="#8a6a3a" stroke-width="0.62" fill="none" opacity="0.53" stroke-linecap="round"/><path d="M39.7,112.9 Q38.1,112.7 36.6,113.0" stroke="#6a5030" stroke-width="0.70" fill="none" opacity="0.52" stroke-linecap="round"/><path d="M54.4,123.0 Q52.5,123.4 51.8,125.2" stroke="#b89a60" stroke-width="0.40" fill="none" opacity="0.64" stroke-linecap="round"/><path d="M78.2,92.0 Q77.5,94.1 78.6,95.9" stroke="#7a7060" stroke-width="0.42" fill="none" opacity="0.55" stroke-linecap="round"/><path d="M76.5,131.3 Q77.5,132.2 77.9,133.3" stroke="#9a8a70" stroke-width="0.54" fill="none" opacity="0.51" stroke-linecap="round"/><path d="M50.3,130.3 Q50.3,131.3 49.6,131.8" stroke="#b89a60" stroke-width="0.52" fill="none" opacity="0.66" stroke-linecap="round"/><path d="M82.8,103.2 Q82.8,105.4 82.8,107.6" stroke="#9a8a70" stroke-width="0.46" fill="none" opacity="0.53" stroke-linecap="round"/><path d="M39.0,115.1 Q39.6,117.2 38.5,119.0" stroke="#a08450" stroke-width="0.48" fill="none" opacity="0.62" stroke-linecap="round"/><path d="M66.2,105.9 Q68.8,106.6 67.8,109.1" stroke="#b89a60" stroke-width="0.60" fill="none" opacity="0.67" stroke-linecap="round"/><path d="M39.6,118.2 Q38.2,118.5 37.5,119.7" stroke="#a08450" stroke-width="0.41" fill="none" opacity="0.74" stroke-linecap="round"/><path d="M76.8,103.0 Q76.2,104.2 76.3,105.6" stroke="#7a7060" stroke-width="0.53" fill="none" opacity="0.65" stroke-linecap="round"/><path d="M75.2,114.0 Q75.2,115.7 76.2,117.0" stroke="#8a6a3a" stroke-width="0.73" fill="none" opacity="0.51" stroke-linecap="round"/><path d="M60.4,104.2 Q62.1,104.8 62.5,106.6" stroke="#6a5030" stroke-width="0.44" fill="none" opacity="0.74" stroke-linecap="round"/><path d="M44.6,91.4 Q45.1,92.2 46.0,92.3" stroke="#a08450" stroke-width="0.67" fill="none" opacity="0.89" stroke-linecap="round"/><path d="M69.6,121.6 Q71.2,122.4 71.5,124.1" stroke="#8a6a3a" stroke-width="0.63" fill="none" opacity="0.87" stroke-linecap="round"/><path d="M76.6,111.4 Q77.8,111.3 78.1,112.5" stroke="#6a5030" stroke-width="0.36" fill="none" opacity="0.72" stroke-linecap="round"/><path d="M47,133.5 C51,131.5 55,131 58,130 C60,129.4 62,128.6 64,127.6" stroke="#c4ae80" stroke-width="2.4" fill="none" opacity="0.75" stroke-linecap="round"/><path d="M47.5,134.6 C52,132.8 57,132 64.5,128.8" stroke="#a08858" stroke-width="0.6" fill="none" opacity="0.8"/><path d="M74,113 C77,114 80,116 83,118" stroke="#b09058" stroke-width="1.4" fill="none" opacity="0.8" stroke-linecap="round"/><ellipse cx="37.2" cy="97.2" rx="1.3" ry="1.7" fill="#5a3c1e"/><ellipse cx="64" cy="105" rx="0.9" ry="1.1" fill="#6a4a2a" opacity="0.8"/></g>
</g>
<circle cx="61.5" cy="111.5" r="28.6" fill="none" stroke="#4c4c4c" stroke-width="1.15" stroke-dasharray="2.6 2.4"/>
<g clip-path="url(#cc3)">
<rect x="93.6" y="82.5" width="58" height="58" fill="#000" filter="url(#t3)"/>
<g filter="url(#bl1)">
<ellipse cx="120" cy="100" rx="12" ry="10" fill="#e4ebf0" opacity="0.5"/>
<ellipse cx="128" cy="125" rx="10" ry="8" fill="#cdd9e4" opacity="0.4"/>
</g>
<mask id="m5" maskUnits="userSpaceOnUse" x="93.6" y="82.5" width="58" height="58"><g filter="url(#bl3)">
<ellipse cx="122" cy="111" rx="26" ry="26" fill="#fff" opacity="1"/>
</g></mask>
<g mask="url(#m5)" opacity="0.7"><rect x="93.6" y="82.5" width="58" height="58" fill="#000" filter="url(#sw)"/></g>
</g>
<circle cx="122.6" cy="111.5" r="28.6" fill="none" stroke="#4c4c4c" stroke-width="1.15" stroke-dasharray="2.6 2.4"/>
<g clip-path="url(#cc4)">
<rect x="32.5" y="150.7" width="58" height="58" fill="#000" filter="url(#t4)"/>
<g filter="url(#bl1)">
<ellipse cx="52" cy="180" rx="9" ry="8" fill="#a8a080" opacity="0.55"/>
<ellipse cx="72" cy="197" rx="8" ry="12" fill="#9a8c62" opacity="0.6"/>
<ellipse cx="45" cy="165" rx="8" ry="8" fill="#aab8b6" opacity="0.5"/>
<ellipse cx="85" cy="175" rx="8" ry="10" fill="#d0d8d6" opacity="0.4"/>
<ellipse cx="40" cy="195" rx="8" ry="8" fill="#b4bfbc" opacity="0.5"/>
</g>
<mask id="m6" maskUnits="userSpaceOnUse" x="32.5" y="150.7" width="58" height="58"><g filter="url(#bl3)">
<ellipse cx="52" cy="180" rx="10" ry="8" fill="#fff" opacity="1"/>
<ellipse cx="73" cy="198" rx="9" ry="13" fill="#fff" opacity="1"/>
<ellipse cx="60" cy="160" rx="6" ry="5" fill="#fff" opacity="0.6"/>
<ellipse cx="45" cy="192" rx="5" ry="5" fill="#fff" opacity="0.5"/>
</g></mask>
<g mask="url(#m6)" opacity="1.0"><rect x="32.5" y="150.7" width="58" height="58" fill="#000" filter="url(#sb)"/></g>
<mask id="m7" maskUnits="userSpaceOnUse" x="32.5" y="150.7" width="58" height="58"><g filter="url(#bl3)">
<ellipse cx="52" cy="181" rx="6" ry="5" fill="#fff" opacity="1"/>
<ellipse cx="73" cy="200" rx="7" ry="10" fill="#fff" opacity="1"/>
</g></mask>
<g mask="url(#m7)" opacity="1.0"><rect x="32.5" y="150.7" width="58" height="58" fill="#000" filter="url(#sd)"/></g>
<g filter="url(#bl2)">
<ellipse cx="72.5" cy="208.6" rx="0.35" ry="0.25" fill="#b0a070" opacity="0.33"/>
<ellipse cx="73.4" cy="203.9" rx="0.63" ry="0.41" fill="#b0a070" opacity="0.35"/>
<ellipse cx="51.2" cy="182.5" rx="0.44" ry="0.36" fill="#5a3c1e" opacity="0.61"/>
<ellipse cx="56.3" cy="174.8" rx="0.50" ry="0.28" fill="#5a3c1e" opacity="0.32"/>
<ellipse cx="48.9" cy="175.3" rx="0.67" ry="0.65" fill="#a89468" opacity="0.44"/>
<ellipse cx="77.8" cy="192.5" rx="0.55" ry="0.45" fill="#6b4a26" opacity="0.41"/>
<ellipse cx="52.0" cy="175.4" rx="0.68" ry="0.55" fill="#a89468" opacity="0.37"/>
<ellipse cx="77.8" cy="199.4" rx="0.63" ry="0.61" fill="#b0a070" opacity="0.33"/>
<ellipse cx="75.1" cy="203.9" rx="0.47" ry="0.44" fill="#7a5530" opacity="0.31"/>
<ellipse cx="75.0" cy="193.6" rx="0.40" ry="0.26" fill="#5a3c1e" opacity="0.57"/>
<ellipse cx="55.0" cy="175.2" rx="0.47" ry="0.37" fill="#988050" opacity="0.38"/>
<ellipse cx="78.1" cy="194.0" rx="0.70" ry="0.39" fill="#c0b080" opacity="0.69"/>
<ellipse cx="73.2" cy="189.3" rx="0.40" ry="0.25" fill="#b0a070" opacity="0.41"/>
<ellipse cx="57.8" cy="178.9" rx="0.69" ry="0.66" fill="#a89468" opacity="0.63"/>
<ellipse cx="68.7" cy="190.5" rx="0.70" ry="0.46" fill="#988050" opacity="0.50"/>
<ellipse cx="45.4" cy="178.5" rx="0.48" ry="0.33" fill="#a89468" opacity="0.39"/>
<ellipse cx="48.5" cy="181.4" rx="0.64" ry="0.49" fill="#7a5530" opacity="0.49"/>
<ellipse cx="50.9" cy="185.4" rx="0.59" ry="0.31" fill="#5a3c1e" opacity="0.46"/>
<ellipse cx="53.1" cy="175.7" rx="0.52" ry="0.38" fill="#b0a070" opacity="0.45"/>
<ellipse cx="77.6" cy="200.7" rx="0.54" ry="0.38" fill="#a89468" opacity="0.69"/>
<ellipse cx="73.8" cy="195.0" rx="0.36" ry="0.27" fill="#6b4a26" opacity="0.50"/>
<ellipse cx="56.9" cy="180.3" rx="0.36" ry="0.35" fill="#6b4a26" opacity="0.36"/>
<ellipse cx="76.4" cy="193.6" rx="0.43" ry="0.32" fill="#5a3c1e" opacity="0.50"/>
<ellipse cx="72.6" cy="187.4" rx="0.43" ry="0.34" fill="#b0a070" opacity="0.69"/>
<ellipse cx="53.6" cy="176.7" rx="0.56" ry="0.35" fill="#5a3c1e" opacity="0.53"/>
<ellipse cx="53.3" cy="175.4" rx="0.55" ry="0.38" fill="#6b4a26" opacity="0.61"/>
<ellipse cx="49.0" cy="175.1" rx="0.58" ry="0.46" fill="#988050" opacity="0.50"/>
<ellipse cx="78.2" cy="203.2" rx="0.32" ry="0.25" fill="#a89468" opacity="0.51"/>
<ellipse cx="73.4" cy="193.9" rx="0.37" ry="0.25" fill="#6b4a26" opacity="0.44"/>
<ellipse cx="74.5" cy="191.2" rx="0.40" ry="0.39" fill="#6b4a26" opacity="0.42"/>
<ellipse cx="76.8" cy="202.5" rx="0.58" ry="0.39" fill="#988050" opacity="0.43"/>
<ellipse cx="70.0" cy="199.6" rx="0.52" ry="0.51" fill="#988050" opacity="0.63"/>
<ellipse cx="48.6" cy="177.0" rx="0.59" ry="0.48" fill="#c0b080" opacity="0.67"/>
<ellipse cx="69.0" cy="205.2" rx="0.41" ry="0.23" fill="#6b4a26" opacity="0.58"/>
<ellipse cx="47.9" cy="182.4" rx="0.51" ry="0.28" fill="#7a5530" opacity="0.39"/>
<ellipse cx="76.0" cy="189.2" rx="0.61" ry="0.60" fill="#b0a070" opacity="0.69"/>
<ellipse cx="50.5" cy="186.1" rx="0.65" ry="0.57" fill="#988050" opacity="0.56"/>
<ellipse cx="70.5" cy="201.2" rx="0.66" ry="0.41" fill="#b0a070" opacity="0.56"/>
<ellipse cx="50.4" cy="179.9" rx="0.67" ry="0.63" fill="#5a3c1e" opacity="0.67"/>
<ellipse cx="48.8" cy="181.4" rx="0.67" ry="0.67" fill="#c0b080" opacity="0.41"/>
<ellipse cx="73.1" cy="193.0" rx="0.62" ry="0.45" fill="#c0b080" opacity="0.36"/>
<ellipse cx="70.7" cy="193.5" rx="0.57" ry="0.53" fill="#a89468" opacity="0.37"/>
<ellipse cx="77.6" cy="198.3" rx="0.33" ry="0.33" fill="#7a5530" opacity="0.34"/>
<ellipse cx="70.5" cy="192.5" rx="0.40" ry="0.26" fill="#a89468" opacity="0.48"/>
<ellipse cx="70.2" cy="202.9" rx="0.30" ry="0.19" fill="#7a5530" opacity="0.44"/>
<ellipse cx="51.4" cy="175.2" rx="0.57" ry="0.49" fill="#7a5530" opacity="0.61"/>
<ellipse cx="71.1" cy="191.9" rx="0.68" ry="0.60" fill="#988050" opacity="0.36"/>
<ellipse cx="71.8" cy="199.1" rx="0.49" ry="0.45" fill="#6b4a26" opacity="0.62"/>
<ellipse cx="54.9" cy="181.3" rx="0.61" ry="0.52" fill="#6b4a26" opacity="0.48"/>
<ellipse cx="47.2" cy="180.5" rx="0.37" ry="0.20" fill="#5a3c1e" opacity="0.51"/>
<ellipse cx="55.5" cy="179.8" rx="0.66" ry="0.48" fill="#988050" opacity="0.62"/>
<ellipse cx="72.4" cy="188.3" rx="0.48" ry="0.25" fill="#5a3c1e" opacity="0.42"/>
<ellipse cx="77.4" cy="203.4" rx="0.53" ry="0.45" fill="#b0a070" opacity="0.47"/>
<ellipse cx="50.5" cy="183.8" rx="0.61" ry="0.43" fill="#7a5530" opacity="0.56"/>
<ellipse cx="72.3" cy="207.2" rx="0.45" ry="0.37" fill="#b0a070" opacity="0.57"/>
<ellipse cx="54.5" cy="177.9" rx="0.37" ry="0.21" fill="#6b4a26" opacity="0.46"/>
<ellipse cx="57.4" cy="183.6" rx="0.69" ry="0.53" fill="#988050" opacity="0.57"/>
<ellipse cx="77.5" cy="192.4" rx="0.44" ry="0.41" fill="#c0b080" opacity="0.38"/>
<ellipse cx="44.5" cy="182.2" rx="0.55" ry="0.29" fill="#b0a070" opacity="0.40"/>
<ellipse cx="51.1" cy="182.4" rx="0.65" ry="0.45" fill="#a89468" opacity="0.60"/>
</g>
<g filter="url(#bl4)" fill="none" stroke="#eef2f0" stroke-linecap="round" opacity="0.75"><path d="M65.4,150 C66.5,160 67,168 66.7,172.3 C65,180 63,185 62.7,188.5 C61.5,196 60.5,202 60,212" stroke-width="3.2"/><path d="M66.7,172.3 C71,169 76,166 82,163.5" stroke-width="2.2"/><path d="M69,168 C72,164 75,160 79,155" stroke-width="1.6"/><path d="M58,160 C61,165 63,170 64.5,176" stroke-width="1.2"/></g>
</g>
<circle cx="61.5" cy="179.7" r="28.6" fill="none" stroke="#4c4c4c" stroke-width="1.15" stroke-dasharray="2.6 2.4"/>
<g clip-path="url(#cc5)">
<rect x="93.6" y="150.7" width="58" height="58" fill="#000" filter="url(#t5)"/>
<g filter="url(#bl1)">
<ellipse cx="118" cy="170" rx="12" ry="10" fill="#e0e5e6" opacity="0.4"/>
</g>
<mask id="m8" maskUnits="userSpaceOnUse" x="93.6" y="150.7" width="58" height="58"><g filter="url(#bl3)">
<ellipse cx="122" cy="180" rx="26" ry="26" fill="#fff" opacity="1"/>
</g></mask>
<g mask="url(#m8)" opacity="0.5"><rect x="93.6" y="150.7" width="58" height="58" fill="#000" filter="url(#sw)"/></g>
</g>
<circle cx="122.6" cy="179.7" r="28.6" fill="none" stroke="#4c4c4c" stroke-width="1.15" stroke-dasharray="2.6 2.4"/>
<g clip-path="url(#cc6)">
<rect x="32.5" y="211.3" width="58" height="58" fill="#000" filter="url(#t6)"/>
<g filter="url(#bl1)">
<ellipse cx="80" cy="230" rx="8" ry="10" fill="#c2d2d6" opacity="0.7"/>
<ellipse cx="45" cy="248" rx="8" ry="9" fill="#ccd8d4" opacity="0.5"/>
<ellipse cx="55" cy="262" rx="12" ry="6" fill="#ece8d2" opacity="0.5"/>
<ellipse cx="62" cy="225" rx="8" ry="6" fill="#eee8d0" opacity="0.5"/>
</g>
<mask id="m9" maskUnits="userSpaceOnUse" x="32.5" y="211.3" width="58" height="58"><g filter="url(#bl3)">
<ellipse cx="61.5" cy="240" rx="24" ry="24" fill="#fff" opacity="0.18"/>
</g></mask>
<g mask="url(#m9)" opacity="0.6"><rect x="32.5" y="211.3" width="58" height="58" fill="#000" filter="url(#sb)"/></g>
<g filter="url(#bl2)">
<ellipse cx="63.6" cy="253.5" rx="0.61" ry="0.39" fill="#c8aa6a" opacity="0.45"/>
<ellipse cx="65.5" cy="254.5" rx="0.63" ry="0.36" fill="#c8aa6a" opacity="0.39"/>
<ellipse cx="57.0" cy="228.6" rx="0.52" ry="0.37" fill="#c8aa6a" opacity="0.49"/>
<ellipse cx="37.9" cy="232.2" rx="0.56" ry="0.37" fill="#b89a5a" opacity="0.54"/>
<ellipse cx="56.7" cy="229.9" rx="0.37" ry="0.23" fill="#b89a5a" opacity="0.37"/>
<ellipse cx="64.7" cy="264.6" rx="0.52" ry="0.33" fill="#c8aa6a" opacity="0.42"/>
<ellipse cx="69.1" cy="262.3" rx="0.64" ry="0.58" fill="#c8aa6a" opacity="0.46"/>
<ellipse cx="49.5" cy="249.3" rx="0.54" ry="0.48" fill="#c8aa6a" opacity="0.36"/>
<ellipse cx="60.4" cy="259.5" rx="0.43" ry="0.26" fill="#c8aa6a" opacity="0.36"/>
<ellipse cx="74.3" cy="253.5" rx="0.67" ry="0.41" fill="#c8aa6a" opacity="0.42"/>
<ellipse cx="75.8" cy="234.1" rx="0.51" ry="0.35" fill="#b89a5a" opacity="0.39"/>
<ellipse cx="59.7" cy="256.0" rx="0.59" ry="0.40" fill="#b89a5a" opacity="0.57"/>
<ellipse cx="64.3" cy="244.7" rx="0.59" ry="0.39" fill="#b89a5a" opacity="0.35"/>
<ellipse cx="65.1" cy="227.1" rx="0.52" ry="0.47" fill="#b89a5a" opacity="0.38"/>
<ellipse cx="59.5" cy="252.4" rx="0.44" ry="0.33" fill="#c8aa6a" opacity="0.52"/>
<ellipse cx="62.7" cy="257.9" rx="0.33" ry="0.23" fill="#c8aa6a" opacity="0.53"/>
<ellipse cx="46.9" cy="238.0" rx="0.32" ry="0.16" fill="#b89a5a" opacity="0.50"/>
<ellipse cx="36.1" cy="241.8" rx="0.41" ry="0.37" fill="#b89a5a" opacity="0.31"/>
<ellipse cx="43.2" cy="224.3" rx="0.51" ry="0.36" fill="#b89a5a" opacity="0.38"/>
<ellipse cx="85.4" cy="238.2" rx="0.40" ry="0.36" fill="#c8aa6a" opacity="0.39"/>
<ellipse cx="69.5" cy="258.9" rx="0.60" ry="0.42" fill="#c8aa6a" opacity="0.42"/>
<ellipse cx="44.4" cy="240.3" rx="0.47" ry="0.44" fill="#b89a5a" opacity="0.47"/>
<ellipse cx="47.4" cy="261.2" rx="0.58" ry="0.56" fill="#b89a5a" opacity="0.38"/>
<ellipse cx="82.3" cy="243.6" rx="0.31" ry="0.19" fill="#b89a5a" opacity="0.30"/>
<ellipse cx="74.6" cy="251.4" rx="0.46" ry="0.36" fill="#c8aa6a" opacity="0.39"/>
<ellipse cx="70.7" cy="242.4" rx="0.45" ry="0.38" fill="#c8aa6a" opacity="0.54"/>
<ellipse cx="61.5" cy="265.0" rx="0.32" ry="0.17" fill="#b89a5a" opacity="0.37"/>
<ellipse cx="68.5" cy="255.0" rx="0.48" ry="0.47" fill="#c8aa6a" opacity="0.41"/>
<ellipse cx="45.2" cy="244.8" rx="0.45" ry="0.39" fill="#b89a5a" opacity="0.54"/>
<ellipse cx="49.4" cy="234.1" rx="0.61" ry="0.40" fill="#c8aa6a" opacity="0.52"/>
</g>
<ellipse cx="37.1" cy="231.5" rx="2.4" ry="2.0" fill="none" stroke="#a07c3c" stroke-width="1.0" opacity="0.9"/><ellipse cx="39.5" cy="236.5" rx="1.6" ry="1.4" fill="none" stroke="#a07c3c" stroke-width="1.0" opacity="0.9"/><ellipse cx="43.8" cy="226.2" rx="1.8" ry="1.6" fill="none" stroke="#a07c3c" stroke-width="1.0" opacity="0.9"/><ellipse cx="51.9" cy="249" rx="2.4" ry="2.1" fill="none" stroke="#a07c3c" stroke-width="1.0" opacity="0.9"/><ellipse cx="80.2" cy="234.2" rx="2.0" ry="2.4" fill="none" stroke="#a07c3c" stroke-width="1.0" opacity="0.9"/><ellipse cx="77.5" cy="223.5" rx="1.5" ry="1.4" fill="none" stroke="#a07c3c" stroke-width="1.0" opacity="0.9"/><ellipse cx="70.8" cy="255.8" rx="1.4" ry="1.2" fill="none" stroke="#a07c3c" stroke-width="1.0" opacity="0.9"/><ellipse cx="45" cy="262" rx="1.2" ry="1" fill="none" stroke="#a07c3c" stroke-width="1.0" opacity="0.9"/><path d="M52,243.5 C57,239 62,237.5 66,238 C71,239 75,242 79,247" fill="none" stroke="#b08e4a" stroke-width="1.4" opacity="0.85"/><path d="M65.4,238.3 C68,232 71,226 73.5,220.8" fill="none" stroke="#b08e4a" stroke-width="1.0" opacity="0.75"/><path d="M56,262 C60,259 63,258 66,259" fill="none" stroke="#b89a5a" stroke-width="0.8" opacity="0.6"/>
</g>
<circle cx="61.5" cy="240.3" r="28.6" fill="none" stroke="#4c4c4c" stroke-width="1.15" stroke-dasharray="2.6 2.4"/>
<g clip-path="url(#cc7)">
<rect x="93.6" y="211.3" width="58" height="58" fill="#000" filter="url(#t7)"/>
<g filter="url(#bl1)">
<ellipse cx="103" cy="250" rx="9" ry="15" fill="#b4c8de" opacity="0.75"/>
<ellipse cx="112" cy="240" rx="8" ry="10" fill="#c2d2e4" opacity="0.5"/>
<ellipse cx="132" cy="228" rx="10" ry="10" fill="#d0dde9" opacity="0.4"/>
<ellipse cx="122" cy="262" rx="9" ry="5" fill="#c4d4e6" opacity="0.5"/>
</g>
<mask id="m10" maskUnits="userSpaceOnUse" x="93.6" y="211.3" width="58" height="58"><g filter="url(#bl3)">
<ellipse cx="130" cy="235" rx="20" ry="20" fill="#fff" opacity="1"/>
</g></mask>
<g mask="url(#m10)" opacity="0.6"><rect x="93.6" y="211.3" width="58" height="58" fill="#000" filter="url(#sw)"/></g>
</g>
<circle cx="122.6" cy="240.3" r="28.6" fill="none" stroke="#4c4c4c" stroke-width="1.15" stroke-dasharray="2.6 2.4"/>
<defs>
<g id="mouse">
<path d="M-40.5,4.8 C-47,5.2 -52.5,8 -51.5,11.6 C-50.5,14.6 -45,15.3 -38,15 C-34,14.8 -31.5,13.6 -30.4,12.2" fill="none" stroke="#a86a74" stroke-width="1.5" stroke-linecap="round"/>
<path d="M-40.5,4.8 C-47,5.2 -52.5,8 -51.5,11.6 C-50.5,14.6 -45,15.3 -38,15 C-34,14.8 -31.5,13.6 -30.4,12.2" fill="none" stroke="#e2aab2" stroke-width="0.55" stroke-linecap="round"/>
<g stroke="#a05e6a" stroke-width="2.3" stroke-linecap="round" fill="none">
<path d="M-33.8,9.2 L-27.5,12 L-23.8,13.6"/><path d="M-23.8,6.9 L-19.5,8.9 L-16.2,10.1"/><path d="M-12.1,7.6 L-8,10.6 L-5.3,12.6"/><path d="M-3.7,7.6 L-0.5,9.4 L1.7,10.5"/>
</g>
<g stroke="#e6a8b0" stroke-width="1.2" stroke-linecap="round" fill="none">
<path d="M-33.8,9.2 L-27.5,12 L-23.8,13.6"/><path d="M-23.8,6.9 L-19.5,8.9 L-16.2,10.1"/><path d="M-12.1,7.6 L-8,10.6 L-5.3,12.6"/><path d="M-3.7,7.6 L-0.5,9.4 L1.7,10.5"/>
</g>
<g stroke="#a05e6a" stroke-width="0.75" stroke-linecap="round">
<path d="M-23.8,13.6 L-22.8,15.4 M-23.8,13.6 L-21.4,14.4 M-23.8,13.6 L-25,15.6"/>
<path d="M-16.2,10.1 L-15,11.7 M-16.2,10.1 L-14.2,10.5"/>
<path d="M-5.3,12.6 L-4.1,14.2 M-5.3,12.6 L-3.3,13 M-5.3,12.6 L-6.1,14.4"/>
<path d="M1.7,10.5 L3,11.9 M1.7,10.5 L3.6,10.7"/>
</g>
<path d="M-43.5,3.9 C-44.6,-3 -41.2,-12 -36.6,-15.4 C-32,-18.8 -28.5,-19.5 -25.8,-19.3 C-21,-19.5 -17.5,-18.7 -16.6,-18.4 C-13,-17.4 -11.4,-16 -10.4,-15.4 C-7.5,-13.6 -5.5,-12.8 -4.3,-12.3 C-1,-11.2 2.5,-9.8 4.5,-8.6 C6.5,-7.2 7.8,-4.5 8.4,-1.5 C8.9,0.8 9.4,2.6 9.3,3.8 C9.1,5.6 8.4,7 7.2,7.8 C5.4,9.2 2.6,10 -0.5,10.2 C-4,10.5 -10,10.5 -18.1,10.3 C-23,10.1 -27,9.7 -30.4,9.2 C-34.5,8.6 -37.8,7.6 -39.7,6.5 C-41.8,5.6 -43.2,4.7 -43.5,3.9 Z" fill="#c6c6c6"/>
<path d="M-43.2,3 C-43.8,-4 -40,-9 -35,-9.5 C-28,-10 -23,-5 -22.5,1 C-22.2,5.5 -24,9.2 -26,9.5 C-31,9 -37,7.8 -40,6.3 C-42,5.4 -43,4.3 -43.2,3 Z" fill="#bebebe"/>
<path d="M-16.5,10 C-17.5,4 -15,-0.5 -10.5,-1 C-6,-1.5 -3,2.5 -3.5,10 Z" fill="#cdcdcd"/>
<ellipse cx="-5.9" cy="-8.0" rx="3.3" ry="3.9" fill="#d2cacc" stroke="#aa999d" stroke-width="0.35"/>
<ellipse cx="-5.7" cy="-7.8" rx="2.2" ry="2.8" fill="#a27680"/>
<path d="M3.4,-10.3 C4.2,-12.8 5.1,-14.8 6.1,-15.8 C7.2,-13 7.6,-10.2 7.2,-7.1 Z" fill="#cac4c6" stroke="#a8979b" stroke-width="0.35"/>
<path d="M4.6,-10 C5.0,-12 5.6,-13.4 6.1,-14.3 C6.7,-12.2 6.8,-10.4 6.5,-8.4 Z" fill="#a87a84"/>
<circle cx="0" cy="0" r="1.45" fill="#141414"/>
<ellipse cx="7.2" cy="6.6" rx="1.5" ry="1.1" fill="#b88088"/>
<path d="M8.4,3.8 L11.5,2.2 L14.2,-0.4 L15.2,1.2 L17.8,0.6 L17.2,2.2 L20,3.2 L17,4.2 L18.4,5.9 L15.2,5.5 L13.2,7 L10.6,5.8 L8.8,5.6 Z" fill="#d0d0d0" stroke="#b4b4b4" stroke-width="0.3"/>
</g></defs>
<use href="#mouse" x="71.6" y="346.9"/>
<use href="#mouse" x="226.75" y="346.8"/>
<use href="#mouse" x="331.25" y="346.8"/>
<path d="M190.5,327.5 C190,324.5 193,322.8 196,323.4 C199.5,323.6 201.2,326.2 200.6,329 C200,332 197,333.6 194,333 C191.5,332.6 190.6,330.2 190.5,327.5 Z" fill="#111"/>
<path d="M296,333.5 C299,330 305,329 309.5,331.5" fill="none" stroke="#b6404c" stroke-width="1.3" stroke-linecap="round"/>
<path d="M298.4,322.8 C302,321 307,319.4 311,318.4 L311.8,320.2 C307.5,321.4 302.5,323 299.2,324.2 Z" fill="#9a9a9a" stroke="#666" stroke-width="0.4"/>
<path d="M311,318.4 L321.4,314.6 L322.2,316.4 L311.8,320.2 Z" fill="#555" stroke="#444" stroke-width="0.3"/>
<rect x="3.4" y="319.0" width="8.6" height="4.4" fill="#6e6e6e"/>
<path d="M3.9,323.4 L11.5,323.4 L11.5,342.2 L7.7,346.2 L3.9,342.2 Z" fill="#fff" stroke="#7a7a7a" stroke-width="0.5"/>
<defs><linearGradient id="tg" x1="0" y1="0" x2="0" y2="1"><stop offset="0" stop-color="#ffffff"/><stop offset="0.35" stop-color="#fbe6e6"/><stop offset="1" stop-color="#eab8b4"/></linearGradient></defs>
<rect x="4.3" y="324" width="6.8" height="10.6" fill="url(#tg)"/>
<rect x="4.3" y="334.6" width="6.8" height="1.6" fill="#2a1a1a"/>
<rect x="4.3" y="336.2" width="6.8" height="1.0" fill="#b09090"/>
<rect x="4.3" y="337.2" width="6.8" height="1.5" fill="#2a1a1a"/>
<path d="M4.3,338.7 L11.1,338.7 L11.1,342 L7.7,345.4 L4.3,342 Z" fill="#fff" stroke="#222" stroke-width="0.9"/>
<circle cx="7.7" cy="341.6" r="1.2" fill="#222"/>
<circle cx="12.6" cy="312.6" r="3.1" fill="#1a1a1a"/><circle cx="12.2" cy="312.4" r="1" fill="#666"/>
<path d="M16.6,314.2 C21,315.5 25.5,318.4 30.0,322.6" fill="none" stroke="#222" stroke-width="1.0" stroke-dasharray="1.5 1.3"/>
<path d="M33.9,326.2 L28.0,324.9 L32.0,320.7 Z" fill="#111"/>
<line x1="98.8" y1="346.8" x2="158.5" y2="346.8" stroke="#222" stroke-width="0.8"/>
<path d="M162.8,346.8 L157.8,344.6 L157.8,349 Z" fill="#111"/>
<line x1="252" y1="346.8" x2="273.5" y2="346.8" stroke="#222" stroke-width="1.0" stroke-dasharray="2.2 1.6"/>
<path d="M277.8,346.8 L272.8,344.6 L272.8,349 Z" fill="#111"/>
<line x1="362.5" y1="346.8" x2="420.5" y2="346.8" stroke="#222" stroke-width="0.8"/>
<path d="M425.2,346.8 L420.2,344.6 L420.2,349 Z" fill="#111"/>
<text x="263.60" y="301.50" font-size="8.2" text-anchor="middle" font-weight="normal" >Resection size</text>
<line x1="248.8" y1="306" x2="248.8" y2="333.2" stroke="#222" stroke-width="0.8"/>
<line x1="248.4" y1="333" x2="280.4" y2="333" stroke="#222" stroke-width="0.8"/>
<line x1="256" y1="333" x2="256" y2="334.6" stroke="#222" stroke-width="0.5"/>
<line x1="264" y1="333" x2="264" y2="334.6" stroke="#222" stroke-width="0.5"/>
<line x1="272" y1="333" x2="272" y2="334.6" stroke="#222" stroke-width="0.5"/>
<line x1="249.5" y1="307.8" x2="280" y2="307.8" stroke="#8a8a8a" stroke-width="0.9" stroke-dasharray="1.4 1.6"/>
<line x1="247.6" y1="313.5" x2="248.8" y2="313.5" stroke="#444" stroke-width="0.5"/>
<line x1="247.6" y1="319.5" x2="248.8" y2="319.5" stroke="#444" stroke-width="0.5"/>
<line x1="247.6" y1="325.5" x2="248.8" y2="325.5" stroke="#444" stroke-width="0.5"/>
<path d="M250,332.6 C258,332 264,328 266.5,320 C267.5,316 268.3,311 268.8,307.8" fill="none" stroke="#6a6a9a" stroke-width="0.8"/>
<path d="M251,332.8 C262,332.5 270,327 273.5,320 C275,316.5 276.5,311 277.4,307.8" fill="none" stroke="#a84450" stroke-width="0.8"/>
<text x="0" y="0" font-size="7.5" text-anchor="middle" transform="translate(247.3,320) rotate(-90)">Volume</text>
<text x="264.00" y="340.50" font-size="7.6" text-anchor="middle" font-weight="normal" >Time</text>
<use href="#mouse" x="495.5" y="346.8"/>
<circle cx="463.6" cy="329.8" r="17.9" fill="#fff" stroke="#666" stroke-width="1.2"/>
<clipPath id="lc"><circle cx="463.6" cy="329.8" r="17.3"/></clipPath>
<filter id="lbl" x="-20%" y="-20%" width="140%" height="140%"><feGaussianBlur stdDeviation="0.6"/></filter>
<g clip-path="url(#lc)">
<g filter="url(#lbl)">
<path d="M446,332 C446,324 449,318 452,316 C455,317 456,321 456,326 C457,330 455,335 452,338 C449,338 446.5,336 446,332 Z" fill="#f2c4bc"/>
<path d="M456,319 C457,316 460,315 462,316.5 C464,319 465,323 464.5,327 C464,331 461,334 458,333 C456.5,329 456,324 456,319 Z" fill="#f4d0cc"/>
<path d="M449,322 C450,320 452,320 453,323 C452,326 450,326 449,322 Z" fill="#e8a0a0"/>
</g>
<path d="M455.5,345.5 C456,341 458,337 460.2,335.4 C462,334.6 463.5,335.6 464.8,336.4 C468,337.6 472,339 475.2,340.4 C473,342.4 471,343.4 469.4,343.4 C466,344.4 462,346 458,347.2 Z" fill="#b8283a"/>
<circle cx="453.2" cy="322.5" r="1.6" fill="#1c1010"/>
<circle cx="459.8" cy="321.8" r="1.5" fill="#1c1010"/>
<circle cx="462" cy="326.8" r="1.6" fill="#1c1010"/>
<circle cx="450.2" cy="331.4" r="1.7" fill="#1c1010"/>
<circle cx="461.3" cy="331.8" r="2.1" fill="#1c1010"/>
<circle cx="461.7" cy="338.9" r="2.0" fill="#1c1010"/>
<circle cx="466.3" cy="341.6" r="1.9" fill="#1c1010"/>
<circle cx="448.5" cy="325.5" r="0.8" fill="#1c1010"/>
<circle cx="457" cy="328" r="0.7" fill="#1c1010"/>
<circle cx="472.5" cy="326.4" r="6.6" fill="#fff" stroke="#b0b0b0" stroke-width="0.5"/>
<circle cx="472.2" cy="326.8" r="5.0" fill="none" stroke="#a0a0a0" stroke-width="1.6" stroke-dasharray="0.9 0.9"/>
<circle cx="475.5" cy="324.8" r="3.8" fill="#141414"/>
</g>
<rect x="98.3" y="374.7" width="327.9" height="5.2" fill="#fff" stroke="#555" stroke-width="0.7"/>
<rect x="351.2" y="374.7" width="75.0" height="5.2" fill="#9b1b25" stroke="#5a1015" stroke-width="0.5"/>
<rect x="98.3" y="387.3" width="327.9" height="5.2" fill="#fff" stroke="#555" stroke-width="0.7"/>
<rect x="98.3" y="387.3" width="74.89999999999999" height="5.2" fill="#9b1b25" stroke="#5a1015" stroke-width="0.5"/>
<rect x="98.3" y="400.0" width="327.9" height="5.2" fill="#fff" stroke="#555" stroke-width="0.7"/>
<rect x="98.3" y="400.0" width="327.9" height="5.2" fill="#9b1b25" stroke="#5a1015" stroke-width="0.5"/>
<text x="94.60" y="380.30" font-size="9" text-anchor="end" font-weight="normal" >Adjuvant</text>
<text x="94.60" y="392.90" font-size="9" text-anchor="end" font-weight="normal" >Neoadjuvant</text>
<text x="94.60" y="405.50" font-size="9" text-anchor="end" font-weight="normal" >Genetic</text>
<text x="431.50" y="380.30" font-size="7.9" text-anchor="start" font-weight="normal" >IgG vs. anti-Ang2</text>
<text x="431.50" y="392.30" font-size="7.9" text-anchor="start" font-weight="normal" >IgG vs. anti-Ang2</text>
<text x="431.50" y="405.50" font-size="8" text-anchor="start" font-weight="normal" >Ang2<tspan font-size="5.4" dy="-2.8">WT</tspan><tspan dy="2.8"> vs. Ang2</tspan><tspan font-size="5.4" dy="-2.8">KO</tspan></text>
</svg></body></html>
